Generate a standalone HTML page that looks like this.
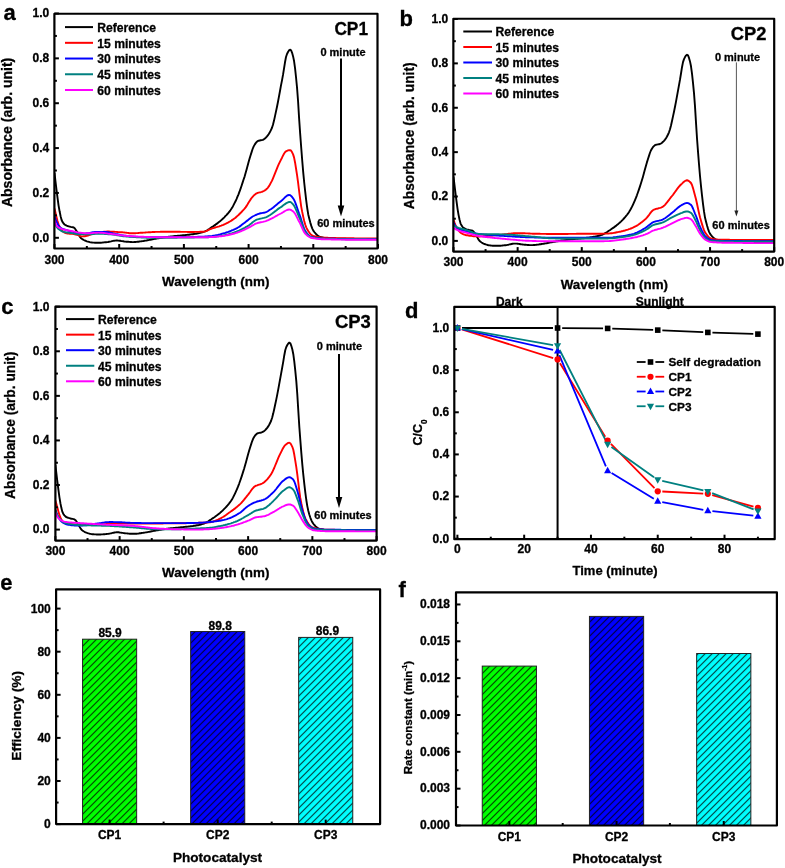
<!DOCTYPE html>
<html><head><meta charset="utf-8"><style>html,body{margin:0;padding:0;background:#fff;} svg{display:block;-webkit-font-smoothing:antialiased;filter:grayscale(0%);} text{font-family:"Liberation Sans", sans-serif;stroke:#000;stroke-width:0.3px;paint-order:stroke;}</style></head>
<body>
<svg width="785" height="868" viewBox="0 0 785 868" font-family='"Liberation Sans", sans-serif'>
<rect width="785" height="868" fill="#fff"/>
<clipPath id="ca"><rect x="54.4" y="13.75" width="323.1" height="234.75"/></clipPath>
<path d="M54.5,172.8 55.5,181.5 56.5,189.8 57.5,197.6 58.5,205.1 59.6,211.3 60.6,216.2 61.6,220.0 62.6,222.1 63.6,223.5 64.6,224.5 65.6,225.2 66.6,225.7 67.6,226.0 68.7,226.3 69.7,226.6 70.7,226.9 71.7,227.1 72.7,227.2 73.7,227.5 74.7,228.3 75.7,229.7 76.7,231.2 77.8,232.8 78.8,234.8 79.8,236.6 80.8,237.9 81.8,238.7 82.8,239.4 83.8,240.0 84.8,240.5 85.8,240.9 86.8,241.3 87.9,241.6 88.9,241.9 89.9,242.2 90.9,242.4 91.9,242.5 92.9,242.6 93.9,242.6 94.9,242.7 95.9,242.7 97.0,242.7 98.0,242.7 99.0,242.7 100.0,242.7 101.0,242.7 102.0,242.6 103.0,242.5 104.0,242.4 105.0,242.3 106.1,242.2 107.1,242.1 108.1,242.0 109.1,241.8 110.1,241.6 111.1,241.4 112.1,241.1 113.1,240.9 114.1,240.7 115.2,240.6 116.2,240.5 117.2,240.5 118.2,240.6 119.2,240.7 120.2,240.8 121.2,241.0 122.2,241.1 123.2,241.3 124.3,241.5 125.3,241.6 126.3,241.7 127.3,241.7 128.3,241.8 129.3,241.9 130.3,242.0 131.3,242.0 132.3,242.1 133.4,242.1 134.4,242.0 135.4,242.0 136.4,241.9 137.4,241.8 138.4,241.7 139.4,241.5 140.4,241.4 141.4,241.3 142.5,241.1 143.5,241.0 144.5,240.8 145.5,240.6 146.5,240.5 147.5,240.3 148.5,240.1 149.5,239.9 150.5,239.7 151.6,239.5 152.6,239.3 153.6,239.1 154.6,238.9 155.6,238.7 156.6,238.6 157.6,238.4 158.6,238.2 159.6,238.1 160.6,237.9 161.7,237.8 162.7,237.6 163.7,237.4 164.7,237.3 165.7,237.1 166.7,237.0 167.7,236.9 168.7,236.7 169.7,236.6 170.8,236.5 171.8,236.4 172.8,236.3 173.8,236.1 174.8,236.0 175.8,236.0 176.8,235.9 177.8,235.8 178.8,235.7 179.9,235.6 180.9,235.5 181.9,235.4 182.9,235.3 183.9,235.2 184.9,235.1 185.9,235.0 186.9,234.9 187.9,234.8 189.0,234.7 190.0,234.5 191.0,234.4 192.0,234.3 193.0,234.2 194.0,234.0 195.0,233.9 196.0,233.7 197.0,233.5 198.1,233.3 199.1,233.1 200.1,232.9 201.1,232.6 202.1,232.4 203.1,232.0 204.1,231.7 205.1,231.3 206.1,230.8 207.2,230.3 208.2,229.6 209.2,229.0 210.2,228.3 211.2,227.6 212.2,226.9 213.2,226.3 214.2,225.6 215.2,224.9 216.2,224.1 217.3,223.4 218.3,222.6 219.3,221.8 220.3,221.0 221.3,220.1 222.3,219.2 223.3,218.3 224.3,217.3 225.3,216.2 226.4,215.1 227.4,214.0 228.4,212.9 229.4,211.6 230.4,210.3 231.4,208.8 232.4,207.2 233.4,205.4 234.4,203.4 235.5,201.3 236.5,199.1 237.5,196.7 238.5,194.3 239.5,191.7 240.5,188.9 241.5,186.0 242.5,182.9 243.5,179.8 244.6,176.6 245.6,173.1 246.6,169.4 247.6,165.7 248.6,162.0 249.6,158.5 250.6,155.2 251.6,152.1 252.6,149.0 253.7,146.4 254.7,144.6 255.7,143.1 256.7,141.9 257.7,141.1 258.7,140.7 259.7,140.5 260.7,140.3 261.7,140.1 262.8,139.8 263.8,139.3 264.8,138.6 265.8,137.7 266.8,136.6 267.8,135.4 268.8,134.0 269.8,132.3 270.8,130.3 271.9,128.0 272.9,125.0 273.9,121.1 274.9,116.6 275.9,111.9 276.9,107.2 277.9,102.2 278.9,96.9 279.9,91.5 280.9,85.9 282.0,80.4 283.0,74.9 284.0,68.6 285.0,62.3 286.0,57.0 287.0,54.0 288.0,52.0 289.0,50.4 290.0,49.7 291.1,50.3 292.1,52.8 293.1,56.4 294.1,61.3 295.1,68.7 296.1,78.0 297.1,88.4 298.1,101.8 299.1,118.3 300.2,134.1 301.2,147.5 302.2,160.3 303.2,172.2 304.2,182.5 305.2,191.7 306.2,200.3 307.2,208.0 308.2,214.2 309.3,218.7 310.3,222.6 311.3,225.9 312.3,228.6 313.3,230.6 314.3,232.0 315.3,233.2 316.3,234.3 317.3,235.2 318.4,236.0 319.4,236.6 320.4,237.0 321.4,237.3 322.4,237.5 323.4,237.7 324.4,237.9 325.4,238.1 326.4,238.2 327.5,238.3 328.5,238.4 329.5,238.5 330.5,238.5 331.5,238.5 332.5,238.6 333.5,238.6 334.5,238.6 335.5,238.7 336.6,238.7 337.6,238.7 338.6,238.7 339.6,238.8 340.6,238.8 341.6,238.8 342.6,238.8 343.6,238.8 344.6,238.8 345.6,238.8 346.7,238.9 347.7,238.9 348.7,238.9 349.7,238.9 350.7,238.9 351.7,238.9 352.7,238.9 353.7,238.9 354.7,239.0 355.8,239.0 356.8,239.0 357.8,239.0 358.8,239.0 359.8,239.0 360.8,239.0 361.8,239.0 362.8,239.0 363.8,239.1 364.9,239.1 365.9,239.1 366.9,239.1 367.9,239.1 368.9,239.1 369.9,239.1 370.9,239.1 371.9,239.1 372.9,239.1 374.0,239.1 375.0,239.1 376.0,239.1 377.0,239.1 378.0,239.1" fill="none" stroke="#000" stroke-width="1.9" stroke-linejoin="round" clip-path="url(#ca)"/>
<path d="M54.5,208.4 55.5,212.8 56.5,216.9 57.5,220.9 58.5,224.3 59.6,226.6 60.6,228.5 61.6,230.1 62.6,231.2 63.6,231.9 64.6,232.6 65.6,233.0 66.6,233.3 67.6,233.5 68.7,233.6 69.7,233.7 70.7,233.7 71.7,233.8 72.7,233.9 73.7,234.1 74.7,234.3 75.7,234.5 76.7,234.7 77.8,235.0 78.8,235.3 79.8,235.8 80.8,236.2 81.8,236.4 82.8,236.4 83.8,236.3 84.8,236.2 85.8,236.0 86.8,235.8 87.9,235.6 88.9,235.2 89.9,234.8 90.9,234.4 91.9,234.1 92.9,233.8 93.9,233.6 94.9,233.3 95.9,233.1 97.0,232.9 98.0,232.8 99.0,232.6 100.0,232.4 101.0,232.3 102.0,232.1 103.0,231.9 104.0,231.8 105.0,231.7 106.1,231.6 107.1,231.5 108.1,231.5 109.1,231.5 110.1,231.6 111.1,231.6 112.1,231.7 113.1,231.7 114.1,231.8 115.2,231.9 116.2,231.9 117.2,232.0 118.2,232.1 119.2,232.1 120.2,232.2 121.2,232.3 122.2,232.3 123.2,232.4 124.3,232.5 125.3,232.6 126.3,232.7 127.3,232.9 128.3,233.0 129.3,233.2 130.3,233.3 131.3,233.3 132.3,233.3 133.4,233.3 134.4,233.2 135.4,233.2 136.4,233.1 137.4,233.1 138.4,233.0 139.4,232.9 140.4,232.8 141.4,232.8 142.5,232.7 143.5,232.6 144.5,232.6 145.5,232.5 146.5,232.4 147.5,232.4 148.5,232.3 149.5,232.2 150.5,232.2 151.6,232.1 152.6,232.0 153.6,232.0 154.6,232.0 155.6,231.9 156.6,231.9 157.6,231.9 158.6,231.9 159.6,231.9 160.6,231.8 161.7,231.8 162.7,231.8 163.7,231.8 164.7,231.8 165.7,231.8 166.7,231.8 167.7,231.8 168.7,231.7 169.7,231.7 170.8,231.7 171.8,231.7 172.8,231.7 173.8,231.8 174.8,231.8 175.8,231.8 176.8,231.8 177.8,231.8 178.8,231.8 179.9,231.8 180.9,231.9 181.9,231.9 182.9,231.9 183.9,231.9 184.9,231.9 185.9,231.9 186.9,231.9 187.9,232.0 189.0,232.0 190.0,232.0 191.0,232.0 192.0,232.0 193.0,232.0 194.0,232.0 195.0,231.9 196.0,231.9 197.0,231.9 198.1,231.9 199.1,231.9 200.1,231.8 201.1,231.8 202.1,231.8 203.1,231.8 204.1,231.7 205.1,231.4 206.1,231.1 207.2,230.6 208.2,230.1 209.2,229.6 210.2,229.2 211.2,228.8 212.2,228.4 213.2,228.1 214.2,227.8 215.2,227.5 216.2,227.2 217.3,226.9 218.3,226.6 219.3,226.3 220.3,225.9 221.3,225.6 222.3,225.2 223.3,224.8 224.3,224.3 225.3,223.9 226.4,223.4 227.4,222.9 228.4,222.4 229.4,221.8 230.4,221.2 231.4,220.6 232.4,219.9 233.4,219.2 234.4,218.5 235.5,217.7 236.5,216.8 237.5,215.9 238.5,215.0 239.5,214.0 240.5,213.0 241.5,212.0 242.5,210.9 243.5,209.8 244.6,208.7 245.6,207.4 246.6,205.9 247.6,204.3 248.6,202.6 249.6,201.0 250.6,199.4 251.6,198.0 252.6,196.8 253.7,195.7 254.7,194.7 255.7,193.9 256.7,193.3 257.7,192.9 258.7,192.6 259.7,192.4 260.7,192.2 261.7,191.9 262.8,191.5 263.8,191.0 264.8,190.4 265.8,189.7 266.8,188.8 267.8,187.8 268.8,186.4 269.8,184.7 270.8,182.9 271.9,180.9 272.9,178.6 273.9,176.2 274.9,173.7 275.9,171.2 276.9,168.7 277.9,166.2 278.9,163.9 279.9,161.8 280.9,159.8 282.0,157.7 283.0,155.6 284.0,153.7 285.0,152.2 286.0,151.3 287.0,150.8 288.0,150.4 289.0,150.2 290.0,150.1 291.1,150.7 292.1,152.3 293.1,154.4 294.1,157.6 295.1,162.7 296.1,169.0 297.1,175.4 298.1,182.6 299.1,191.0 300.2,199.4 301.2,206.6 302.2,211.9 303.2,216.6 304.2,220.9 305.2,224.5 306.2,227.3 307.2,229.3 308.2,231.0 309.3,232.5 310.3,233.8 311.3,234.8 312.3,235.6 313.3,236.0 314.3,236.3 315.3,236.5 316.3,236.7 317.3,236.9 318.4,237.1 319.4,237.2 320.4,237.4 321.4,237.5 322.4,237.6 323.4,237.7 324.4,237.7 325.4,237.8 326.4,237.8 327.5,237.8 328.5,237.9 329.5,237.9 330.5,237.9 331.5,237.9 332.5,238.0 333.5,238.0 334.5,238.0 335.5,238.0 336.6,238.1 337.6,238.1 338.6,238.1 339.6,238.1 340.6,238.1 341.6,238.2 342.6,238.2 343.6,238.2 344.6,238.2 345.6,238.2 346.7,238.2 347.7,238.3 348.7,238.3 349.7,238.3 350.7,238.3 351.7,238.3 352.7,238.3 353.7,238.3 354.7,238.4 355.8,238.4 356.8,238.4 357.8,238.4 358.8,238.4 359.8,238.4 360.8,238.4 361.8,238.4 362.8,238.4 363.8,238.4 364.9,238.4 365.9,238.4 366.9,238.4 367.9,238.5 368.9,238.5 369.9,238.5 370.9,238.5 371.9,238.5 372.9,238.5 374.0,238.5 375.0,238.5 376.0,238.5 377.0,238.5 378.0,238.5" fill="none" stroke="#ff0000" stroke-width="1.9" stroke-linejoin="round" clip-path="url(#ca)"/>
<path d="M54.5,216.0 55.5,219.2 56.5,221.7 57.5,223.7 58.5,225.6 59.6,227.0 60.6,227.8 61.6,228.4 62.6,228.8 63.6,229.2 64.6,229.5 65.6,229.9 66.6,230.2 67.6,230.5 68.7,230.8 69.7,231.1 70.7,231.3 71.7,231.6 72.7,231.9 73.7,232.2 74.7,232.6 75.7,233.0 76.7,233.4 77.8,233.7 78.8,233.9 79.8,234.0 80.8,234.0 81.8,233.9 82.8,233.8 83.8,233.7 84.8,233.6 85.8,233.5 86.8,233.3 87.9,233.2 88.9,233.1 89.9,232.9 90.9,232.7 91.9,232.5 92.9,232.3 93.9,232.1 94.9,232.0 95.9,232.0 97.0,232.0 98.0,232.0 99.0,232.0 100.0,232.0 101.0,232.0 102.0,232.0 103.0,232.0 104.0,232.0 105.0,232.0 106.1,232.0 107.1,232.1 108.1,232.3 109.1,232.5 110.1,232.7 111.1,233.0 112.1,233.2 113.1,233.5 114.1,233.7 115.2,234.0 116.2,234.1 117.2,234.3 118.2,234.5 119.2,234.7 120.2,234.9 121.2,235.1 122.2,235.3 123.2,235.4 124.3,235.6 125.3,235.7 126.3,235.9 127.3,236.0 128.3,236.1 129.3,236.2 130.3,236.4 131.3,236.5 132.3,236.6 133.4,236.7 134.4,236.8 135.4,236.8 136.4,236.9 137.4,236.9 138.4,236.9 139.4,237.0 140.4,237.0 141.4,237.0 142.5,237.0 143.5,237.0 144.5,237.0 145.5,237.1 146.5,237.1 147.5,237.1 148.5,237.1 149.5,237.1 150.5,237.1 151.6,237.1 152.6,237.1 153.6,237.1 154.6,237.1 155.6,237.1 156.6,237.1 157.6,237.1 158.6,237.1 159.6,237.1 160.6,237.1 161.7,237.1 162.7,237.1 163.7,237.1 164.7,237.1 165.7,237.1 166.7,237.1 167.7,237.1 168.7,237.1 169.7,237.1 170.8,237.1 171.8,237.1 172.8,237.1 173.8,237.1 174.8,237.1 175.8,237.1 176.8,237.1 177.8,237.1 178.8,237.1 179.9,237.1 180.9,237.1 181.9,237.1 182.9,237.1 183.9,237.1 184.9,237.1 185.9,237.1 186.9,237.1 187.9,237.1 189.0,237.1 190.0,237.1 191.0,237.1 192.0,237.0 193.0,237.0 194.0,237.0 195.0,236.9 196.0,236.9 197.0,236.9 198.1,236.8 199.1,236.8 200.1,236.8 201.1,236.7 202.1,236.7 203.1,236.6 204.1,236.6 205.1,236.5 206.1,236.4 207.2,236.4 208.2,236.3 209.2,236.3 210.2,236.2 211.2,236.1 212.2,236.0 213.2,235.8 214.2,235.7 215.2,235.5 216.2,235.3 217.3,235.1 218.3,234.8 219.3,234.6 220.3,234.3 221.3,234.0 222.3,233.7 223.3,233.4 224.3,233.1 225.3,232.9 226.4,232.5 227.4,232.2 228.4,231.9 229.4,231.5 230.4,231.1 231.4,230.7 232.4,230.2 233.4,229.8 234.4,229.3 235.5,228.8 236.5,228.3 237.5,227.8 238.5,227.2 239.5,226.6 240.5,225.9 241.5,225.1 242.5,224.3 243.5,223.5 244.6,222.7 245.6,221.9 246.6,221.1 247.6,220.4 248.6,219.6 249.6,218.8 250.6,218.0 251.6,217.2 252.6,216.5 253.7,216.0 254.7,215.5 255.7,215.0 256.7,214.6 257.7,214.2 258.7,213.8 259.7,213.5 260.7,213.3 261.7,213.1 262.8,212.9 263.8,212.7 264.8,212.5 265.8,212.2 266.8,211.8 267.8,211.2 268.8,210.5 269.8,209.8 270.8,209.2 271.9,208.4 272.9,207.7 273.9,206.9 274.9,206.1 275.9,205.2 276.9,204.4 277.9,203.6 278.9,202.8 279.9,202.0 280.9,201.2 282.0,200.3 283.0,199.3 284.0,198.3 285.0,197.3 286.0,196.5 287.0,195.7 288.0,195.2 289.0,195.0 290.0,195.1 291.1,195.9 292.1,197.0 293.1,198.3 294.1,199.9 295.1,202.1 296.1,204.8 297.1,207.7 298.1,210.7 299.1,213.6 300.2,216.5 301.2,219.7 302.2,223.0 303.2,226.1 304.2,228.8 305.2,230.9 306.2,232.4 307.2,233.7 308.2,234.9 309.3,235.9 310.3,236.7 311.3,237.1 312.3,237.3 313.3,237.5 314.3,237.7 315.3,237.8 316.3,238.0 317.3,238.1 318.4,238.2 319.4,238.3 320.4,238.4 321.4,238.5 322.4,238.6 323.4,238.6 324.4,238.6 325.4,238.7 326.4,238.7 327.5,238.7 328.5,238.7 329.5,238.8 330.5,238.8 331.5,238.8 332.5,238.8 333.5,238.8 334.5,238.8 335.5,238.9 336.6,238.9 337.6,238.9 338.6,238.9 339.6,238.9 340.6,238.9 341.6,238.9 342.6,238.9 343.6,239.0 344.6,239.0 345.6,239.0 346.7,239.0 347.7,239.0 348.7,239.0 349.7,239.0 350.7,239.0 351.7,239.0 352.7,239.0 353.7,239.1 354.7,239.1 355.8,239.1 356.8,239.1 357.8,239.1 358.8,239.1 359.8,239.1 360.8,239.1 361.8,239.1 362.8,239.1 363.8,239.1 364.9,239.1 365.9,239.1 366.9,239.1 367.9,239.1 368.9,239.1 369.9,239.1 370.9,239.1 371.9,239.1 372.9,239.1 374.0,239.1 375.0,239.1 376.0,239.1 377.0,239.1 378.0,239.1" fill="none" stroke="#0000ff" stroke-width="1.9" stroke-linejoin="round" clip-path="url(#ca)"/>
<path d="M54.5,221.2 55.5,224.2 56.5,226.6 57.5,228.0 58.5,229.0 59.6,229.8 60.6,230.5 61.6,231.1 62.6,231.5 63.6,231.9 64.6,232.1 65.6,232.3 66.6,232.5 67.6,232.6 68.7,232.8 69.7,232.9 70.7,233.0 71.7,233.1 72.7,233.3 73.7,233.4 74.7,233.7 75.7,233.9 76.7,234.1 77.8,234.3 78.8,234.4 79.8,234.4 80.8,234.4 81.8,234.4 82.8,234.4 83.8,234.4 84.8,234.4 85.8,234.4 86.8,234.4 87.9,234.4 88.9,234.4 89.9,234.4 90.9,234.3 91.9,234.2 92.9,234.1 93.9,234.0 94.9,233.9 95.9,233.9 97.0,233.8 98.0,233.8 99.0,233.8 100.0,233.8 101.0,233.8 102.0,233.8 103.0,233.9 104.0,233.9 105.0,234.0 106.1,234.0 107.1,234.1 108.1,234.2 109.1,234.3 110.1,234.3 111.1,234.4 112.1,234.5 113.1,234.6 114.1,234.7 115.2,234.9 116.2,235.0 117.2,235.2 118.2,235.4 119.2,235.6 120.2,235.7 121.2,235.9 122.2,236.1 123.2,236.2 124.3,236.3 125.3,236.4 126.3,236.5 127.3,236.6 128.3,236.6 129.3,236.7 130.3,236.8 131.3,236.9 132.3,236.9 133.4,237.0 134.4,237.1 135.4,237.1 136.4,237.2 137.4,237.2 138.4,237.3 139.4,237.4 140.4,237.4 141.4,237.5 142.5,237.5 143.5,237.6 144.5,237.6 145.5,237.6 146.5,237.7 147.5,237.7 148.5,237.7 149.5,237.7 150.5,237.8 151.6,237.8 152.6,237.8 153.6,237.8 154.6,237.8 155.6,237.8 156.6,237.8 157.6,237.8 158.6,237.8 159.6,237.8 160.6,237.8 161.7,237.8 162.7,237.8 163.7,237.8 164.7,237.8 165.7,237.8 166.7,237.7 167.7,237.7 168.7,237.7 169.7,237.7 170.8,237.7 171.8,237.7 172.8,237.7 173.8,237.7 174.8,237.7 175.8,237.7 176.8,237.7 177.8,237.6 178.8,237.6 179.9,237.6 180.9,237.6 181.9,237.6 182.9,237.6 183.9,237.6 184.9,237.6 185.9,237.6 186.9,237.5 187.9,237.5 189.0,237.5 190.0,237.5 191.0,237.5 192.0,237.5 193.0,237.5 194.0,237.5 195.0,237.4 196.0,237.4 197.0,237.4 198.1,237.4 199.1,237.4 200.1,237.4 201.1,237.4 202.1,237.3 203.1,237.3 204.1,237.3 205.1,237.3 206.1,237.2 207.2,237.2 208.2,237.2 209.2,237.1 210.2,237.1 211.2,237.1 212.2,237.0 213.2,236.9 214.2,236.8 215.2,236.7 216.2,236.6 217.3,236.4 218.3,236.3 219.3,236.1 220.3,236.0 221.3,235.8 222.3,235.6 223.3,235.5 224.3,235.3 225.3,235.0 226.4,234.8 227.4,234.6 228.4,234.3 229.4,234.0 230.4,233.7 231.4,233.4 232.4,233.1 233.4,232.7 234.4,232.4 235.5,232.0 236.5,231.7 237.5,231.2 238.5,230.8 239.5,230.4 240.5,229.9 241.5,229.4 242.5,228.9 243.5,228.3 244.6,227.8 245.6,227.2 246.6,226.7 247.6,226.1 248.6,225.5 249.6,224.8 250.6,224.0 251.6,223.2 252.6,222.3 253.7,221.5 254.7,220.8 255.7,220.2 256.7,219.7 257.7,219.4 258.7,219.1 259.7,218.8 260.7,218.6 261.7,218.4 262.8,218.1 263.8,217.9 264.8,217.6 265.8,217.3 266.8,216.9 267.8,216.4 268.8,215.8 269.8,215.2 270.8,214.5 271.9,213.8 272.9,213.0 273.9,212.2 274.9,211.4 275.9,210.7 276.9,209.9 277.9,209.1 278.9,208.4 279.9,207.7 280.9,207.1 282.0,206.4 283.0,205.6 284.0,204.8 285.0,204.1 286.0,203.4 287.0,202.8 288.0,202.3 289.0,202.0 290.0,201.9 291.1,202.3 292.1,203.3 293.1,204.4 294.1,205.8 295.1,207.6 296.1,209.8 297.1,212.2 298.1,214.6 299.1,217.1 300.2,219.5 301.2,222.3 302.2,225.1 303.2,227.9 304.2,230.2 305.2,232.0 306.2,233.3 307.2,234.4 308.2,235.5 309.3,236.3 310.3,237.0 311.3,237.3 312.3,237.5 313.3,237.7 314.3,237.9 315.3,238.1 316.3,238.2 317.3,238.3 318.4,238.4 319.4,238.5 320.4,238.6 321.4,238.7 322.4,238.8 323.4,238.8 324.4,238.9 325.4,238.9 326.4,238.9 327.5,238.9 328.5,239.0 329.5,239.0 330.5,239.0 331.5,239.0 332.5,239.0 333.5,239.0 334.5,239.1 335.5,239.1 336.6,239.1 337.6,239.1 338.6,239.1 339.6,239.1 340.6,239.1 341.6,239.2 342.6,239.2 343.6,239.2 344.6,239.2 345.6,239.2 346.7,239.2 347.7,239.2 348.7,239.2 349.7,239.2 350.7,239.3 351.7,239.3 352.7,239.3 353.7,239.3 354.7,239.3 355.8,239.3 356.8,239.3 357.8,239.3 358.8,239.3 359.8,239.3 360.8,239.3 361.8,239.3 362.8,239.3 363.8,239.3 364.9,239.3 365.9,239.3 366.9,239.4 367.9,239.4 368.9,239.4 369.9,239.4 370.9,239.4 371.9,239.4 372.9,239.4 374.0,239.4 375.0,239.4 376.0,239.4 377.0,239.4 378.0,239.4" fill="none" stroke="#008080" stroke-width="1.9" stroke-linejoin="round" clip-path="url(#ca)"/>
<path d="M54.5,219.9 55.5,223.0 56.5,225.6 57.5,226.7 58.5,227.4 59.6,228.0 60.6,228.4 61.6,228.8 62.6,229.1 63.6,229.4 64.6,229.7 65.6,229.9 66.6,230.1 67.6,230.3 68.7,230.5 69.7,230.7 70.7,230.9 71.7,231.0 72.7,231.2 73.7,231.4 74.7,231.7 75.7,231.9 76.7,232.2 77.8,232.4 78.8,232.6 79.8,232.7 80.8,232.8 81.8,232.9 82.8,233.0 83.8,233.1 84.8,233.2 85.8,233.2 86.8,233.3 87.9,233.3 88.9,233.3 89.9,233.3 90.9,233.2 91.9,233.1 92.9,233.0 93.9,232.9 94.9,232.8 95.9,232.7 97.0,232.7 98.0,232.6 99.0,232.6 100.0,232.7 101.0,232.7 102.0,232.8 103.0,232.9 104.0,233.0 105.0,233.1 106.1,233.3 107.1,233.4 108.1,233.6 109.1,233.7 110.1,233.8 111.1,233.9 112.1,234.1 113.1,234.2 114.1,234.3 115.2,234.5 116.2,234.6 117.2,234.8 118.2,234.9 119.2,235.1 120.2,235.2 121.2,235.3 122.2,235.4 123.2,235.6 124.3,235.7 125.3,235.8 126.3,235.8 127.3,235.9 128.3,236.0 129.3,236.0 130.3,236.1 131.3,236.2 132.3,236.2 133.4,236.3 134.4,236.4 135.4,236.4 136.4,236.5 137.4,236.5 138.4,236.6 139.4,236.6 140.4,236.7 141.4,236.7 142.5,236.8 143.5,236.8 144.5,236.9 145.5,236.9 146.5,236.9 147.5,237.0 148.5,237.0 149.5,237.0 150.5,237.1 151.6,237.1 152.6,237.1 153.6,237.1 154.6,237.1 155.6,237.1 156.6,237.2 157.6,237.2 158.6,237.2 159.6,237.2 160.6,237.2 161.7,237.2 162.7,237.2 163.7,237.2 164.7,237.2 165.7,237.3 166.7,237.3 167.7,237.3 168.7,237.3 169.7,237.3 170.8,237.3 171.8,237.3 172.8,237.3 173.8,237.3 174.8,237.3 175.8,237.3 176.8,237.3 177.8,237.3 178.8,237.3 179.9,237.3 180.9,237.3 181.9,237.4 182.9,237.4 183.9,237.4 184.9,237.4 185.9,237.4 186.9,237.3 187.9,237.3 189.0,237.3 190.0,237.3 191.0,237.3 192.0,237.3 193.0,237.3 194.0,237.3 195.0,237.3 196.0,237.3 197.0,237.3 198.1,237.3 199.1,237.3 200.1,237.3 201.1,237.3 202.1,237.2 203.1,237.2 204.1,237.2 205.1,237.2 206.1,237.2 207.2,237.2 208.2,237.2 209.2,237.1 210.2,237.1 211.2,237.1 212.2,237.0 213.2,237.0 214.2,236.9 215.2,236.8 216.2,236.7 217.3,236.6 218.3,236.5 219.3,236.4 220.3,236.3 221.3,236.2 222.3,236.1 223.3,235.9 224.3,235.8 225.3,235.6 226.4,235.4 227.4,235.2 228.4,235.0 229.4,234.8 230.4,234.5 231.4,234.3 232.4,234.0 233.4,233.8 234.4,233.5 235.5,233.2 236.5,232.9 237.5,232.5 238.5,232.2 239.5,231.8 240.5,231.4 241.5,231.0 242.5,230.5 243.5,230.1 244.6,229.6 245.6,229.1 246.6,228.7 247.6,228.2 248.6,227.7 249.6,227.2 250.6,226.6 251.6,226.0 252.6,225.4 253.7,224.8 254.7,224.2 255.7,223.7 256.7,223.3 257.7,223.0 258.7,222.7 259.7,222.5 260.7,222.3 261.7,222.1 262.8,221.9 263.8,221.6 264.8,221.4 265.8,221.1 266.8,220.7 267.8,220.3 268.8,219.9 269.8,219.4 270.8,218.9 271.9,218.4 272.9,217.8 273.9,217.3 274.9,216.7 275.9,216.1 276.9,215.6 277.9,215.0 278.9,214.5 279.9,214.0 280.9,213.5 282.0,212.9 283.0,212.3 284.0,211.6 285.0,211.0 286.0,210.5 287.0,210.0 288.0,209.7 289.0,209.5 290.0,209.6 291.1,210.0 292.1,210.7 293.1,211.4 294.1,212.4 295.1,213.8 296.1,215.6 297.1,217.6 298.1,219.7 299.1,221.6 300.2,223.6 301.2,225.8 302.2,228.1 303.2,230.3 304.2,232.2 305.2,233.6 306.2,234.6 307.2,235.5 308.2,236.3 309.3,237.0 310.3,237.5 311.3,237.8 312.3,238.0 313.3,238.2 314.3,238.3 315.3,238.5 316.3,238.6 317.3,238.8 318.4,238.9 319.4,239.0 320.4,239.1 321.4,239.2 322.4,239.2 323.4,239.3 324.4,239.3 325.4,239.4 326.4,239.4 327.5,239.4 328.5,239.4 329.5,239.4 330.5,239.4 331.5,239.5 332.5,239.5 333.5,239.5 334.5,239.5 335.5,239.5 336.6,239.5 337.6,239.6 338.6,239.6 339.6,239.6 340.6,239.6 341.6,239.6 342.6,239.6 343.6,239.6 344.6,239.6 345.6,239.7 346.7,239.7 347.7,239.7 348.7,239.7 349.7,239.7 350.7,239.7 351.7,239.7 352.7,239.7 353.7,239.7 354.7,239.7 355.8,239.7 356.8,239.8 357.8,239.8 358.8,239.8 359.8,239.8 360.8,239.8 361.8,239.8 362.8,239.8 363.8,239.8 364.9,239.8 365.9,239.8 366.9,239.8 367.9,239.8 368.9,239.8 369.9,239.8 370.9,239.8 371.9,239.8 372.9,239.8 374.0,239.8 375.0,239.8 376.0,239.8 377.0,239.8 378.0,239.8" fill="none" stroke="#ff00ff" stroke-width="1.9" stroke-linejoin="round" clip-path="url(#ca)"/>
<line x1="54.4" y1="237.8" x2="58.9" y2="237.8" stroke="#000" stroke-width="2.0" />
<line x1="54.4" y1="215.37" x2="56.9" y2="215.37" stroke="#000" stroke-width="2.0" />
<line x1="54.4" y1="192.94" x2="58.9" y2="192.94" stroke="#000" stroke-width="2.0" />
<line x1="54.4" y1="170.51" x2="56.9" y2="170.51" stroke="#000" stroke-width="2.0" />
<line x1="54.4" y1="148.08" x2="58.9" y2="148.08" stroke="#000" stroke-width="2.0" />
<line x1="54.4" y1="125.65" x2="56.9" y2="125.65" stroke="#000" stroke-width="2.0" />
<line x1="54.4" y1="103.22" x2="58.9" y2="103.22" stroke="#000" stroke-width="2.0" />
<line x1="54.4" y1="80.79" x2="56.9" y2="80.79" stroke="#000" stroke-width="2.0" />
<line x1="54.4" y1="58.36" x2="58.9" y2="58.36" stroke="#000" stroke-width="2.0" />
<line x1="54.4" y1="35.93" x2="56.9" y2="35.93" stroke="#000" stroke-width="2.0" />
<line x1="54.4" y1="13.5" x2="58.9" y2="13.5" stroke="#000" stroke-width="2.0" />
<line x1="54.5" y1="248.5" x2="54.5" y2="244" stroke="#000" stroke-width="2.0" />
<line x1="86.85" y1="248.5" x2="86.85" y2="246" stroke="#000" stroke-width="2.0" />
<line x1="119.2" y1="248.5" x2="119.2" y2="244" stroke="#000" stroke-width="2.0" />
<line x1="151.55" y1="248.5" x2="151.55" y2="246" stroke="#000" stroke-width="2.0" />
<line x1="183.9" y1="248.5" x2="183.9" y2="244" stroke="#000" stroke-width="2.0" />
<line x1="216.25" y1="248.5" x2="216.25" y2="246" stroke="#000" stroke-width="2.0" />
<line x1="248.6" y1="248.5" x2="248.6" y2="244" stroke="#000" stroke-width="2.0" />
<line x1="280.95" y1="248.5" x2="280.95" y2="246" stroke="#000" stroke-width="2.0" />
<line x1="313.3" y1="248.5" x2="313.3" y2="244" stroke="#000" stroke-width="2.0" />
<line x1="345.65" y1="248.5" x2="345.65" y2="246" stroke="#000" stroke-width="2.0" />
<line x1="378" y1="248.5" x2="378" y2="244" stroke="#000" stroke-width="2.0" />
<rect x="54.4" y="13.75" width="323.1" height="234.75" fill="none" stroke="#000" stroke-width="2.2" stroke-linejoin="round"/>
<text x="49.3" y="241.6" font-size="12" text-anchor="end" font-weight="bold" fill="#000" >0.0</text>
<text x="49.3" y="196.74" font-size="12" text-anchor="end" font-weight="bold" fill="#000" >0.2</text>
<text x="49.3" y="151.88" font-size="12" text-anchor="end" font-weight="bold" fill="#000" >0.4</text>
<text x="49.3" y="107.02" font-size="12" text-anchor="end" font-weight="bold" fill="#000" >0.6</text>
<text x="49.3" y="62.16" font-size="12" text-anchor="end" font-weight="bold" fill="#000" >0.8</text>
<text x="49.3" y="17.3" font-size="12" text-anchor="end" font-weight="bold" fill="#000" >1.0</text>
<text x="54.5" y="263.8" font-size="12" text-anchor="middle" font-weight="bold" fill="#000" >300</text>
<text x="119.2" y="263.8" font-size="12" text-anchor="middle" font-weight="bold" fill="#000" >400</text>
<text x="183.9" y="263.8" font-size="12" text-anchor="middle" font-weight="bold" fill="#000" >500</text>
<text x="248.6" y="263.8" font-size="12" text-anchor="middle" font-weight="bold" fill="#000" >600</text>
<text x="313.3" y="263.8" font-size="12" text-anchor="middle" font-weight="bold" fill="#000" >700</text>
<text x="378" y="263.8" font-size="12" text-anchor="middle" font-weight="bold" fill="#000" >800</text>
<text x="215.7" y="286.3" font-size="13.4" text-anchor="middle" font-weight="bold" fill="#000" >Wavelength (nm)</text>
<text x="0" y="0" font-size="14" font-weight="bold" text-anchor="middle" transform="translate(12.3,132.4) rotate(-90)">Absorbance (arb. unit)</text>
<text x="3.5" y="20" font-size="22" text-anchor="start" font-weight="bold" fill="#000" >a</text>
<text x="334.4" y="35.1" font-size="19" text-anchor="start" font-weight="bold" fill="#000"  textLength="33.6" lengthAdjust="spacingAndGlyphs">CP1</text>
<line x1="65" y1="27.1" x2="93" y2="27.1" stroke="#000" stroke-width="2" />
<text x="97.3" y="32" font-size="12.15" text-anchor="start" font-weight="bold" fill="#000" >Reference</text>
<line x1="65" y1="42.82" x2="93" y2="42.82" stroke="#ff0000" stroke-width="2" />
<text x="97.3" y="47.72" font-size="12.15" text-anchor="start" font-weight="bold" fill="#000" >15 minutes</text>
<line x1="65" y1="58.54" x2="93" y2="58.54" stroke="#0000ff" stroke-width="2" />
<text x="97.3" y="63.44" font-size="12.15" text-anchor="start" font-weight="bold" fill="#000" >30 minutes</text>
<line x1="65" y1="74.26" x2="93" y2="74.26" stroke="#008080" stroke-width="2" />
<text x="97.3" y="79.16" font-size="12.15" text-anchor="start" font-weight="bold" fill="#000" >45 minutes</text>
<line x1="65" y1="89.98" x2="93" y2="89.98" stroke="#ff00ff" stroke-width="2" />
<text x="97.3" y="94.88" font-size="12.15" text-anchor="start" font-weight="bold" fill="#000" >60 minutes</text>
<text x="343" y="55.9" font-size="11" text-anchor="middle" font-weight="bold" fill="#000" >0 minute</text>
<text x="345.9" y="227" font-size="11" text-anchor="middle" font-weight="bold" fill="#000" >60 minutes</text>
<line x1="341" y1="58.4" x2="341" y2="208.5" stroke="#000" stroke-width="2.0" />
<path d="M337.7,205.5 L344.3,205.5 L341,216.5 Z" fill="#000"/>
<clipPath id="cb"><rect x="453.35" y="18.75" width="320.85" height="232.85"/></clipPath>
<path d="M453.5,176.5 454.5,185.2 455.5,193.4 456.5,201.1 457.5,208.6 458.5,214.6 459.5,219.5 460.5,223.3 461.5,225.4 462.5,226.8 463.5,227.8 464.5,228.4 465.5,228.9 466.5,229.3 467.5,229.6 468.5,229.8 469.5,230.1 470.5,230.3 471.5,230.4 472.5,230.7 473.5,231.5 474.5,232.9 475.5,234.4 476.6,236.0 477.6,237.9 478.6,239.7 479.6,241.0 480.6,241.8 481.6,242.5 482.6,243.1 483.6,243.6 484.6,244.0 485.6,244.4 486.6,244.7 487.6,245.0 488.6,245.2 489.6,245.4 490.6,245.5 491.6,245.6 492.6,245.7 493.6,245.7 494.6,245.7 495.6,245.8 496.6,245.8 497.6,245.8 498.6,245.8 499.6,245.7 500.6,245.7 501.6,245.6 502.6,245.5 503.6,245.4 504.6,245.3 505.6,245.2 506.6,245.1 507.6,244.9 508.6,244.7 509.6,244.4 510.6,244.2 511.6,244.0 512.6,243.8 513.6,243.6 514.6,243.6 515.6,243.6 516.6,243.6 517.6,243.7 518.6,243.9 519.6,244.0 520.6,244.2 521.6,244.4 522.7,244.5 523.7,244.6 524.7,244.7 525.7,244.8 526.7,244.9 527.7,245.0 528.7,245.0 529.7,245.1 530.7,245.1 531.7,245.1 532.7,245.1 533.7,245.0 534.7,245.0 535.7,244.9 536.7,244.7 537.7,244.6 538.7,244.5 539.7,244.3 540.7,244.2 541.7,244.0 542.7,243.9 543.7,243.7 544.7,243.5 545.7,243.4 546.7,243.2 547.7,243.0 548.7,242.8 549.7,242.6 550.7,242.4 551.7,242.2 552.7,242.0 553.7,241.8 554.7,241.7 555.7,241.5 556.7,241.3 557.7,241.2 558.7,241.0 559.7,240.9 560.7,240.7 561.7,240.5 562.7,240.4 563.7,240.3 564.7,240.1 565.7,240.0 566.7,239.8 567.7,239.7 568.8,239.6 569.8,239.5 570.8,239.4 571.8,239.3 572.8,239.2 573.8,239.1 574.8,239.0 575.8,238.9 576.8,238.8 577.8,238.7 578.8,238.6 579.8,238.5 580.8,238.5 581.8,238.4 582.8,238.3 583.8,238.2 584.8,238.0 585.8,237.9 586.8,237.8 587.8,237.7 588.8,237.6 589.8,237.4 590.8,237.3 591.8,237.2 592.8,237.0 593.8,236.8 594.8,236.7 595.8,236.5 596.8,236.3 597.8,236.0 598.8,235.8 599.8,235.5 600.8,235.2 601.8,234.9 602.8,234.5 603.8,234.0 604.8,233.4 605.8,232.8 606.8,232.2 607.8,231.5 608.8,230.8 609.8,230.2 610.8,229.5 611.8,228.8 612.8,228.1 613.9,227.4 614.9,226.6 615.9,225.9 616.9,225.1 617.9,224.3 618.9,223.4 619.9,222.5 620.9,221.6 621.9,220.6 622.9,219.6 623.9,218.5 624.9,217.4 625.9,216.2 626.9,215.0 627.9,213.7 628.9,212.2 629.9,210.6 630.9,208.8 631.9,206.9 632.9,204.8 633.9,202.6 634.9,200.3 635.9,197.9 636.9,195.3 637.9,192.5 638.9,189.6 639.9,186.6 640.9,183.5 641.9,180.3 642.9,176.9 643.9,173.3 644.9,169.6 645.9,165.9 646.9,162.4 647.9,159.2 648.9,156.1 649.9,153.0 650.9,150.5 651.9,148.7 652.9,147.2 653.9,146.1 654.9,145.2 655.9,144.8 656.9,144.6 657.9,144.4 658.9,144.2 660.0,144.0 661.0,143.5 662.0,142.7 663.0,141.8 664.0,140.8 665.0,139.6 666.0,138.2 667.0,136.5 668.0,134.5 669.0,132.3 670.0,129.3 671.0,125.5 672.0,121.0 673.0,116.4 674.0,111.7 675.0,106.8 676.0,101.6 677.0,96.1 678.0,90.6 679.0,85.1 680.0,79.7 681.0,73.5 682.0,67.2 683.0,62.1 684.0,59.1 685.0,57.1 686.0,55.5 687.0,54.8 688.0,55.4 689.0,57.9 690.0,61.4 691.0,66.3 692.0,73.6 693.0,82.8 694.0,93.1 695.0,106.4 696.0,122.6 697.0,138.3 698.0,151.6 699.0,164.3 700.0,176.0 701.0,186.2 702.0,195.3 703.0,203.8 704.0,211.4 705.0,217.6 706.1,222.0 707.1,225.8 708.1,229.1 709.1,231.8 710.1,233.8 711.1,235.1 712.1,236.3 713.1,237.4 714.1,238.3 715.1,239.1 716.1,239.7 717.1,240.1 718.1,240.4 719.1,240.6 720.1,240.8 721.1,241.0 722.1,241.2 723.1,241.3 724.1,241.4 725.1,241.5 726.1,241.6 727.1,241.6 728.1,241.6 729.1,241.7 730.1,241.7 731.1,241.7 732.1,241.8 733.1,241.8 734.1,241.8 735.1,241.8 736.1,241.8 737.1,241.9 738.1,241.9 739.1,241.9 740.1,241.9 741.1,241.9 742.1,241.9 743.1,241.9 744.1,242.0 745.1,242.0 746.1,242.0 747.1,242.0 748.1,242.0 749.1,242.0 750.1,242.0 751.1,242.0 752.2,242.1 753.2,242.1 754.2,242.1 755.2,242.1 756.2,242.1 757.2,242.1 758.2,242.1 759.2,242.1 760.2,242.1 761.2,242.1 762.2,242.2 763.2,242.2 764.2,242.2 765.2,242.2 766.2,242.2 767.2,242.2 768.2,242.2 769.2,242.2 770.2,242.2 771.2,242.2 772.2,242.2 773.2,242.2 774.2,242.2" fill="none" stroke="#000" stroke-width="1.9" stroke-linejoin="round" clip-path="url(#cb)"/>
<path d="M453.5,219.8 454.5,222.6 455.5,225.2 456.5,227.2 457.5,228.9 458.5,230.4 459.5,231.6 460.5,232.6 461.5,233.3 462.5,233.9 463.5,234.3 464.5,234.7 465.5,235.0 466.5,235.2 467.5,235.3 468.5,235.5 469.5,235.7 470.5,235.8 471.5,235.9 472.5,236.1 473.5,236.2 474.5,236.3 475.5,236.3 476.6,236.4 477.6,236.4 478.6,236.5 479.6,236.5 480.6,236.4 481.6,236.4 482.6,236.4 483.6,236.3 484.6,236.2 485.6,236.2 486.6,236.1 487.6,236.0 488.6,235.9 489.6,235.8 490.6,235.7 491.6,235.6 492.6,235.5 493.6,235.4 494.6,235.3 495.6,235.2 496.6,235.1 497.6,235.0 498.6,234.9 499.6,234.8 500.6,234.7 501.6,234.6 502.6,234.5 503.6,234.4 504.6,234.3 505.6,234.2 506.6,234.1 507.6,233.9 508.6,233.8 509.6,233.7 510.6,233.6 511.6,233.5 512.6,233.4 513.6,233.3 514.6,233.2 515.6,233.2 516.6,233.1 517.6,233.1 518.6,233.1 519.6,233.2 520.6,233.2 521.6,233.2 522.7,233.2 523.7,233.3 524.7,233.3 525.7,233.4 526.7,233.4 527.7,233.4 528.7,233.5 529.7,233.5 530.7,233.6 531.7,233.6 532.7,233.7 533.7,233.7 534.7,233.7 535.7,233.8 536.7,233.8 537.7,233.8 538.7,233.8 539.7,233.8 540.7,233.9 541.7,233.9 542.7,233.9 543.7,233.9 544.7,233.9 545.7,233.9 546.7,234.0 547.7,234.0 548.7,234.0 549.7,234.0 550.7,234.0 551.7,234.0 552.7,234.0 553.7,234.0 554.7,234.0 555.7,234.0 556.7,234.0 557.7,234.0 558.7,234.0 559.7,234.0 560.7,234.0 561.7,234.0 562.7,234.0 563.7,234.0 564.7,234.0 565.7,234.0 566.7,234.0 567.7,234.0 568.8,233.9 569.8,233.9 570.8,233.9 571.8,233.9 572.8,233.9 573.8,233.9 574.8,233.9 575.8,233.9 576.8,233.8 577.8,233.8 578.8,233.8 579.8,233.8 580.8,233.8 581.8,233.8 582.8,233.8 583.8,233.8 584.8,233.8 585.8,233.8 586.8,233.8 587.8,233.8 588.8,233.8 589.8,233.7 590.8,233.7 591.8,233.7 592.8,233.7 593.8,233.7 594.8,233.7 595.8,233.7 596.8,233.7 597.8,233.7 598.8,233.7 599.8,233.7 600.8,233.7 601.8,233.7 602.8,233.6 603.8,233.6 604.8,233.6 605.8,233.6 606.8,233.6 607.8,233.6 608.8,233.5 609.8,233.4 610.8,233.3 611.8,233.2 612.8,233.1 613.9,232.9 614.9,232.7 615.9,232.5 616.9,232.3 617.9,232.1 618.9,231.9 619.9,231.7 620.9,231.5 621.9,231.2 622.9,231.0 623.9,230.7 624.9,230.5 625.9,230.2 626.9,229.9 627.9,229.6 628.9,229.2 629.9,228.9 630.9,228.5 631.9,228.1 632.9,227.7 633.9,227.2 634.9,226.7 635.9,226.2 636.9,225.6 637.9,225.0 638.9,224.3 639.9,223.6 640.9,222.8 641.9,222.1 642.9,221.3 643.9,220.4 644.9,219.6 645.9,218.7 646.9,217.7 647.9,216.4 648.9,215.1 649.9,213.7 650.9,212.4 651.9,211.2 652.9,210.3 653.9,209.7 654.9,209.3 655.9,208.9 656.9,208.7 657.9,208.5 658.9,208.2 660.0,207.9 661.0,207.6 662.0,207.2 663.0,206.6 664.0,205.8 665.0,204.8 666.0,203.6 667.0,202.4 668.0,201.1 669.0,199.8 670.0,198.5 671.0,197.2 672.0,196.0 673.0,194.8 674.0,193.4 675.0,192.0 676.0,190.6 677.0,189.2 678.0,187.9 679.0,186.6 680.0,185.5 681.0,184.5 682.0,183.6 683.0,182.6 684.0,181.8 685.0,181.0 686.0,180.5 687.0,180.3 688.0,180.5 689.0,181.1 690.0,182.0 691.0,183.0 692.0,185.0 693.0,188.1 694.0,191.7 695.0,195.5 696.0,199.3 697.0,203.8 698.0,208.5 699.0,213.1 700.0,217.3 701.0,220.8 702.0,224.1 703.0,227.3 704.0,230.1 705.0,232.3 706.1,233.8 707.1,235.2 708.1,236.4 709.1,237.4 710.1,238.2 711.1,238.6 712.1,238.8 713.1,239.0 714.1,239.1 715.1,239.3 716.1,239.4 717.1,239.5 718.1,239.6 719.1,239.7 720.1,239.7 721.1,239.8 722.1,239.8 723.1,239.8 724.1,239.8 725.1,239.8 726.1,239.8 727.1,239.8 728.1,239.8 729.1,239.8 730.1,239.9 731.1,239.9 732.1,239.9 733.1,239.9 734.1,239.9 735.1,239.9 736.1,239.9 737.1,239.9 738.1,239.9 739.1,239.9 740.1,239.9 741.1,239.9 742.1,239.9 743.1,239.9 744.1,239.9 745.1,240.0 746.1,240.0 747.1,240.0 748.1,240.0 749.1,240.0 750.1,240.0 751.1,240.0 752.2,240.0 753.2,240.0 754.2,240.0 755.2,240.0 756.2,240.0 757.2,240.0 758.2,240.0 759.2,240.0 760.2,240.0 761.2,240.0 762.2,240.0 763.2,240.0 764.2,240.0 765.2,240.0 766.2,240.0 767.2,240.0 768.2,240.0 769.2,240.0 770.2,240.0 771.2,240.0 772.2,240.0 773.2,240.0 774.2,240.0" fill="none" stroke="#ff0000" stroke-width="1.9" stroke-linejoin="round" clip-path="url(#cb)"/>
<path d="M453.5,222.5 454.5,224.4 455.5,226.2 456.5,227.4 457.5,228.1 458.5,228.7 459.5,229.2 460.5,229.6 461.5,230.0 462.5,230.3 463.5,230.6 464.5,230.9 465.5,231.1 466.5,231.4 467.5,231.7 468.5,231.9 469.5,232.2 470.5,232.4 471.5,232.7 472.5,232.9 473.5,233.1 474.5,233.3 475.5,233.5 476.6,233.7 477.6,233.8 478.6,233.9 479.6,234.1 480.6,234.2 481.6,234.3 482.6,234.4 483.6,234.5 484.6,234.6 485.6,234.7 486.6,234.8 487.6,234.9 488.6,234.9 489.6,235.0 490.6,235.1 491.6,235.2 492.6,235.2 493.6,235.3 494.6,235.4 495.6,235.4 496.6,235.5 497.6,235.6 498.6,235.6 499.6,235.7 500.6,235.8 501.6,235.8 502.6,235.9 503.6,235.9 504.6,236.0 505.6,236.1 506.6,236.1 507.6,236.2 508.6,236.3 509.6,236.3 510.6,236.4 511.6,236.4 512.6,236.5 513.6,236.6 514.6,236.6 515.6,236.7 516.6,236.7 517.6,236.8 518.6,236.9 519.6,236.9 520.6,237.0 521.6,237.0 522.7,237.1 523.7,237.1 524.7,237.1 525.7,237.2 526.7,237.2 527.7,237.3 528.7,237.3 529.7,237.3 530.7,237.4 531.7,237.4 532.7,237.4 533.7,237.4 534.7,237.5 535.7,237.5 536.7,237.5 537.7,237.5 538.7,237.6 539.7,237.6 540.7,237.6 541.7,237.6 542.7,237.6 543.7,237.7 544.7,237.7 545.7,237.7 546.7,237.7 547.7,237.7 548.7,237.7 549.7,237.8 550.7,237.8 551.7,237.8 552.7,237.8 553.7,237.8 554.7,237.8 555.7,237.8 556.7,237.8 557.7,237.8 558.7,237.8 559.7,237.8 560.7,237.8 561.7,237.8 562.7,237.8 563.7,237.8 564.7,237.8 565.7,237.8 566.7,237.8 567.7,237.8 568.8,237.8 569.8,237.8 570.8,237.8 571.8,237.8 572.8,237.8 573.8,237.8 574.8,237.8 575.8,237.8 576.8,237.8 577.8,237.8 578.8,237.8 579.8,237.8 580.8,237.8 581.8,237.8 582.8,237.8 583.8,237.8 584.8,237.8 585.8,237.8 586.8,237.8 587.8,237.8 588.8,237.8 589.8,237.8 590.8,237.8 591.8,237.8 592.8,237.8 593.8,237.8 594.8,237.8 595.8,237.8 596.8,237.8 597.8,237.8 598.8,237.8 599.8,237.8 600.8,237.8 601.8,237.8 602.8,237.8 603.8,237.8 604.8,237.8 605.8,237.8 606.8,237.8 607.8,237.8 608.8,237.8 609.8,237.7 610.8,237.7 611.8,237.6 612.8,237.5 613.9,237.3 614.9,237.2 615.9,237.1 616.9,236.9 617.9,236.8 618.9,236.7 619.9,236.5 620.9,236.4 621.9,236.2 622.9,236.1 623.9,235.9 624.9,235.8 625.9,235.6 626.9,235.4 627.9,235.2 628.9,235.0 629.9,234.8 630.9,234.6 631.9,234.3 632.9,234.1 633.9,233.8 634.9,233.4 635.9,233.0 636.9,232.6 637.9,232.1 638.9,231.6 639.9,231.1 640.9,230.6 641.9,230.0 642.9,229.4 643.9,228.8 644.9,228.2 645.9,227.6 646.9,226.9 647.9,226.1 648.9,225.3 649.9,224.5 650.9,223.7 651.9,222.9 652.9,222.3 653.9,221.9 654.9,221.6 655.9,221.3 656.9,221.1 657.9,220.9 658.9,220.7 660.0,220.4 661.0,220.2 662.0,219.8 663.0,219.4 664.0,218.8 665.0,218.2 666.0,217.5 667.0,216.8 668.0,216.0 669.0,215.2 670.0,214.4 671.0,213.6 672.0,212.9 673.0,212.0 674.0,211.2 675.0,210.3 676.0,209.4 677.0,208.5 678.0,207.6 679.0,206.9 680.0,206.1 681.0,205.5 682.0,204.9 683.0,204.4 684.0,203.8 685.0,203.4 686.0,203.1 687.0,203.0 688.0,203.1 689.0,203.5 690.0,204.2 691.0,204.9 692.0,206.3 693.0,208.5 694.0,211.0 695.0,213.6 696.0,216.0 697.0,218.7 698.0,221.5 699.0,224.3 700.0,226.7 701.0,228.8 702.0,230.9 703.0,232.8 704.0,234.5 705.0,235.9 706.1,236.9 707.1,237.8 708.1,238.5 709.1,239.2 710.1,239.7 711.1,240.0 712.1,240.1 713.1,240.3 714.1,240.4 715.1,240.5 716.1,240.6 717.1,240.7 718.1,240.7 719.1,240.8 720.1,240.8 721.1,240.9 722.1,240.9 723.1,240.9 724.1,240.9 725.1,240.9 726.1,240.9 727.1,240.9 728.1,240.9 729.1,241.0 730.1,241.0 731.1,241.0 732.1,241.0 733.1,241.0 734.1,241.0 735.1,241.0 736.1,241.0 737.1,241.0 738.1,241.0 739.1,241.0 740.1,241.0 741.1,241.0 742.1,241.0 743.1,241.1 744.1,241.1 745.1,241.1 746.1,241.1 747.1,241.1 748.1,241.1 749.1,241.1 750.1,241.1 751.1,241.1 752.2,241.1 753.2,241.1 754.2,241.1 755.2,241.1 756.2,241.1 757.2,241.1 758.2,241.1 759.2,241.1 760.2,241.1 761.2,241.1 762.2,241.1 763.2,241.1 764.2,241.1 765.2,241.1 766.2,241.1 767.2,241.1 768.2,241.1 769.2,241.1 770.2,241.1 771.2,241.1 772.2,241.1 773.2,241.1 774.2,241.1" fill="none" stroke="#0000ff" stroke-width="1.9" stroke-linejoin="round" clip-path="url(#cb)"/>
<path d="M453.5,224.9 454.5,225.7 455.5,226.5 456.5,227.0 457.5,227.5 458.5,227.9 459.5,228.2 460.5,228.5 461.5,228.8 462.5,229.0 463.5,229.3 464.5,229.5 465.5,229.8 466.5,230.1 467.5,230.4 468.5,230.8 469.5,231.2 470.5,231.6 471.5,232.0 472.5,232.4 473.5,232.8 474.5,233.1 475.5,233.4 476.6,233.7 477.6,233.9 478.6,234.0 479.6,234.0 480.6,234.1 481.6,234.1 482.6,234.1 483.6,234.1 484.6,234.2 485.6,234.2 486.6,234.2 487.6,234.2 488.6,234.2 489.6,234.2 490.6,234.3 491.6,234.3 492.6,234.3 493.6,234.3 494.6,234.3 495.6,234.3 496.6,234.3 497.6,234.3 498.6,234.3 499.6,234.4 500.6,234.4 501.6,234.4 502.6,234.4 503.6,234.4 504.6,234.5 505.6,234.5 506.6,234.5 507.6,234.6 508.6,234.6 509.6,234.7 510.6,234.7 511.6,234.8 512.6,234.9 513.6,235.0 514.6,235.0 515.6,235.1 516.6,235.2 517.6,235.3 518.6,235.4 519.6,235.5 520.6,235.6 521.6,235.7 522.7,235.8 523.7,235.9 524.7,236.0 525.7,236.1 526.7,236.1 527.7,236.2 528.7,236.3 529.7,236.4 530.7,236.5 531.7,236.6 532.7,236.6 533.7,236.7 534.7,236.8 535.7,236.9 536.7,237.0 537.7,237.1 538.7,237.2 539.7,237.3 540.7,237.4 541.7,237.6 542.7,237.7 543.7,237.7 544.7,237.8 545.7,237.9 546.7,238.0 547.7,238.1 548.7,238.2 549.7,238.2 550.7,238.3 551.7,238.4 552.7,238.4 553.7,238.4 554.7,238.4 555.7,238.5 556.7,238.5 557.7,238.5 558.7,238.5 559.7,238.5 560.7,238.5 561.7,238.5 562.7,238.5 563.7,238.5 564.7,238.5 565.7,238.5 566.7,238.5 567.7,238.5 568.8,238.5 569.8,238.5 570.8,238.5 571.8,238.5 572.8,238.5 573.8,238.5 574.8,238.5 575.8,238.5 576.8,238.5 577.8,238.5 578.8,238.5 579.8,238.5 580.8,238.5 581.8,238.5 582.8,238.5 583.8,238.5 584.8,238.5 585.8,238.5 586.8,238.5 587.8,238.5 588.8,238.5 589.8,238.5 590.8,238.5 591.8,238.5 592.8,238.5 593.8,238.5 594.8,238.5 595.8,238.5 596.8,238.5 597.8,238.5 598.8,238.5 599.8,238.5 600.8,238.5 601.8,238.5 602.8,238.5 603.8,238.5 604.8,238.5 605.8,238.5 606.8,238.5 607.8,238.5 608.8,238.4 609.8,238.4 610.8,238.3 611.8,238.3 612.8,238.2 613.9,238.1 614.9,238.0 615.9,237.9 616.9,237.8 617.9,237.6 618.9,237.5 619.9,237.4 620.9,237.3 621.9,237.2 622.9,237.0 623.9,236.9 624.9,236.7 625.9,236.6 626.9,236.4 627.9,236.2 628.9,236.0 629.9,235.8 630.9,235.6 631.9,235.4 632.9,235.2 633.9,234.9 634.9,234.6 635.9,234.3 636.9,233.9 637.9,233.6 638.9,233.2 639.9,232.7 640.9,232.3 641.9,231.8 642.9,231.3 643.9,230.8 644.9,230.3 645.9,229.8 646.9,229.2 647.9,228.6 648.9,227.9 649.9,227.1 650.9,226.4 651.9,225.8 652.9,225.2 653.9,224.8 654.9,224.5 655.9,224.2 656.9,224.0 657.9,223.8 658.9,223.5 660.0,223.3 661.0,223.0 662.0,222.7 663.0,222.3 664.0,221.9 665.0,221.3 666.0,220.8 667.0,220.2 668.0,219.6 669.0,219.0 670.0,218.4 671.0,217.9 672.0,217.4 673.0,216.9 674.0,216.4 675.0,215.9 676.0,215.4 677.0,214.9 678.0,214.5 679.0,214.0 680.0,213.6 681.0,213.2 682.0,212.9 683.0,212.4 684.0,212.0 685.0,211.7 686.0,211.5 687.0,211.4 688.0,211.5 689.0,211.8 690.0,212.3 691.0,212.8 692.0,213.9 693.0,215.5 694.0,217.4 695.0,219.3 696.0,221.2 697.0,223.5 698.0,225.8 699.0,228.1 700.0,230.2 701.0,232.0 702.0,233.7 703.0,235.3 704.0,236.7 705.0,237.8 706.1,238.6 707.1,239.2 708.1,239.8 709.1,240.3 710.1,240.7 711.1,240.9 712.1,241.0 713.1,241.0 714.1,241.1 715.1,241.1 716.1,241.2 717.1,241.2 718.1,241.3 719.1,241.3 720.1,241.3 721.1,241.3 722.1,241.3 723.1,241.3 724.1,241.4 725.1,241.4 726.1,241.4 727.1,241.4 728.1,241.4 729.1,241.4 730.1,241.4 731.1,241.4 732.1,241.4 733.1,241.4 734.1,241.4 735.1,241.4 736.1,241.4 737.1,241.5 738.1,241.5 739.1,241.5 740.1,241.5 741.1,241.5 742.1,241.5 743.1,241.5 744.1,241.5 745.1,241.5 746.1,241.5 747.1,241.5 748.1,241.5 749.1,241.5 750.1,241.5 751.1,241.5 752.2,241.5 753.2,241.5 754.2,241.5 755.2,241.5 756.2,241.5 757.2,241.5 758.2,241.5 759.2,241.5 760.2,241.6 761.2,241.6 762.2,241.6 763.2,241.6 764.2,241.6 765.2,241.6 766.2,241.6 767.2,241.6 768.2,241.6 769.2,241.6 770.2,241.6 771.2,241.6 772.2,241.6 773.2,241.6 774.2,241.6" fill="none" stroke="#008080" stroke-width="1.9" stroke-linejoin="round" clip-path="url(#cb)"/>
<path d="M453.5,227.6 454.5,228.4 455.5,229.1 456.5,229.7 457.5,230.1 458.5,230.5 459.5,230.9 460.5,231.2 461.5,231.5 462.5,231.7 463.5,232.0 464.5,232.2 465.5,232.5 466.5,232.7 467.5,233.0 468.5,233.3 469.5,233.6 470.5,233.9 471.5,234.2 472.5,234.5 473.5,234.8 474.5,235.0 475.5,235.3 476.6,235.5 477.6,235.7 478.6,235.9 479.6,236.1 480.6,236.2 481.6,236.4 482.6,236.5 483.6,236.7 484.6,236.8 485.6,237.0 486.6,237.1 487.6,237.2 488.6,237.3 489.6,237.4 490.6,237.5 491.6,237.6 492.6,237.8 493.6,237.9 494.6,238.0 495.6,238.1 496.6,238.1 497.6,238.2 498.6,238.3 499.6,238.4 500.6,238.5 501.6,238.6 502.6,238.7 503.6,238.8 504.6,238.9 505.6,239.0 506.6,239.1 507.6,239.2 508.6,239.3 509.6,239.4 510.6,239.5 511.6,239.6 512.6,239.6 513.6,239.7 514.6,239.8 515.6,239.9 516.6,240.0 517.6,240.1 518.6,240.2 519.6,240.3 520.6,240.4 521.6,240.4 522.7,240.5 523.7,240.6 524.7,240.6 525.7,240.7 526.7,240.7 527.7,240.8 528.7,240.8 529.7,240.9 530.7,240.9 531.7,240.9 532.7,241.0 533.7,241.0 534.7,241.0 535.7,241.0 536.7,241.1 537.7,241.1 538.7,241.1 539.7,241.1 540.7,241.2 541.7,241.2 542.7,241.2 543.7,241.2 544.7,241.2 545.7,241.3 546.7,241.3 547.7,241.3 548.7,241.3 549.7,241.3 550.7,241.3 551.7,241.3 552.7,241.3 553.7,241.3 554.7,241.3 555.7,241.3 556.7,241.3 557.7,241.3 558.7,241.3 559.7,241.3 560.7,241.3 561.7,241.3 562.7,241.3 563.7,241.3 564.7,241.3 565.7,241.3 566.7,241.3 567.7,241.3 568.8,241.3 569.8,241.3 570.8,241.3 571.8,241.3 572.8,241.3 573.8,241.3 574.8,241.3 575.8,241.3 576.8,241.3 577.8,241.3 578.8,241.3 579.8,241.3 580.8,241.3 581.8,241.3 582.8,241.3 583.8,241.3 584.8,241.3 585.8,241.3 586.8,241.3 587.8,241.3 588.8,241.3 589.8,241.3 590.8,241.3 591.8,241.2 592.8,241.2 593.8,241.2 594.8,241.2 595.8,241.2 596.8,241.2 597.8,241.2 598.8,241.2 599.8,241.2 600.8,241.2 601.8,241.2 602.8,241.2 603.8,241.2 604.8,241.1 605.8,241.1 606.8,241.1 607.8,241.1 608.8,241.1 609.8,241.0 610.8,241.0 611.8,240.9 612.8,240.8 613.9,240.6 614.9,240.5 615.9,240.4 616.9,240.2 617.9,240.1 618.9,240.0 619.9,239.8 620.9,239.7 621.9,239.6 622.9,239.5 623.9,239.3 624.9,239.2 625.9,239.0 626.9,238.9 627.9,238.7 628.9,238.6 629.9,238.4 630.9,238.2 631.9,238.0 632.9,237.8 633.9,237.6 634.9,237.4 635.9,237.2 636.9,237.0 637.9,236.7 638.9,236.4 639.9,236.2 640.9,235.9 641.9,235.6 642.9,235.3 643.9,234.9 644.9,234.6 645.9,234.2 646.9,233.8 647.9,233.4 648.9,232.8 649.9,232.3 650.9,231.7 651.9,231.2 652.9,230.7 653.9,230.4 654.9,230.0 655.9,229.7 656.9,229.5 657.9,229.2 658.9,228.9 660.0,228.7 661.0,228.4 662.0,228.0 663.0,227.7 664.0,227.2 665.0,226.8 666.0,226.3 667.0,225.8 668.0,225.3 669.0,224.8 670.0,224.4 671.0,223.9 672.0,223.4 673.0,222.9 674.0,222.4 675.0,221.9 676.0,221.4 677.0,220.9 678.0,220.4 679.0,220.0 680.0,219.6 681.0,219.2 682.0,218.9 683.0,218.6 684.0,218.3 685.0,218.0 686.0,217.9 687.0,217.8 688.0,218.0 689.0,218.3 690.0,218.7 691.0,219.3 692.0,220.2 693.0,221.6 694.0,223.3 695.0,224.9 696.0,226.5 697.0,228.4 698.0,230.2 699.0,232.1 700.0,233.7 701.0,235.0 702.0,236.3 703.0,237.5 704.0,238.6 705.0,239.5 706.1,240.1 707.1,240.6 708.1,241.1 709.1,241.5 710.1,241.8 711.1,242.0 712.1,242.1 713.1,242.2 714.1,242.3 715.1,242.3 716.1,242.4 717.1,242.5 718.1,242.5 719.1,242.6 720.1,242.6 721.1,242.6 722.1,242.7 723.1,242.7 724.1,242.7 725.1,242.7 726.1,242.7 727.1,242.7 728.1,242.8 729.1,242.8 730.1,242.8 731.1,242.8 732.1,242.8 733.1,242.8 734.1,242.9 735.1,242.9 736.1,242.9 737.1,242.9 738.1,242.9 739.1,242.9 740.1,242.9 741.1,242.9 742.1,242.9 743.1,243.0 744.1,243.0 745.1,243.0 746.1,243.0 747.1,243.0 748.1,243.0 749.1,243.0 750.1,243.0 751.1,243.0 752.2,243.0 753.2,243.0 754.2,243.1 755.2,243.1 756.2,243.1 757.2,243.1 758.2,243.1 759.2,243.1 760.2,243.1 761.2,243.1 762.2,243.1 763.2,243.1 764.2,243.1 765.2,243.1 766.2,243.1 767.2,243.1 768.2,243.1 769.2,243.1 770.2,243.1 771.2,243.1 772.2,243.1 773.2,243.1 774.2,243.1" fill="none" stroke="#ff00ff" stroke-width="1.9" stroke-linejoin="round" clip-path="url(#cb)"/>
<line x1="453.35" y1="240.9" x2="457.85" y2="240.9" stroke="#000" stroke-width="2.0" />
<line x1="453.35" y1="218.71" x2="455.85" y2="218.71" stroke="#000" stroke-width="2.0" />
<line x1="453.35" y1="196.52" x2="457.85" y2="196.52" stroke="#000" stroke-width="2.0" />
<line x1="453.35" y1="174.33" x2="455.85" y2="174.33" stroke="#000" stroke-width="2.0" />
<line x1="453.35" y1="152.14" x2="457.85" y2="152.14" stroke="#000" stroke-width="2.0" />
<line x1="453.35" y1="129.95" x2="455.85" y2="129.95" stroke="#000" stroke-width="2.0" />
<line x1="453.35" y1="107.76" x2="457.85" y2="107.76" stroke="#000" stroke-width="2.0" />
<line x1="453.35" y1="85.57" x2="455.85" y2="85.57" stroke="#000" stroke-width="2.0" />
<line x1="453.35" y1="63.38" x2="457.85" y2="63.38" stroke="#000" stroke-width="2.0" />
<line x1="453.35" y1="41.19" x2="455.85" y2="41.19" stroke="#000" stroke-width="2.0" />
<line x1="453.35" y1="19" x2="457.85" y2="19" stroke="#000" stroke-width="2.0" />
<line x1="453.5" y1="251.6" x2="453.5" y2="247.1" stroke="#000" stroke-width="2.0" />
<line x1="485.57" y1="251.6" x2="485.57" y2="249.1" stroke="#000" stroke-width="2.0" />
<line x1="517.64" y1="251.6" x2="517.64" y2="247.1" stroke="#000" stroke-width="2.0" />
<line x1="549.71" y1="251.6" x2="549.71" y2="249.1" stroke="#000" stroke-width="2.0" />
<line x1="581.78" y1="251.6" x2="581.78" y2="247.1" stroke="#000" stroke-width="2.0" />
<line x1="613.85" y1="251.6" x2="613.85" y2="249.1" stroke="#000" stroke-width="2.0" />
<line x1="645.92" y1="251.6" x2="645.92" y2="247.1" stroke="#000" stroke-width="2.0" />
<line x1="677.99" y1="251.6" x2="677.99" y2="249.1" stroke="#000" stroke-width="2.0" />
<line x1="710.06" y1="251.6" x2="710.06" y2="247.1" stroke="#000" stroke-width="2.0" />
<line x1="742.13" y1="251.6" x2="742.13" y2="249.1" stroke="#000" stroke-width="2.0" />
<line x1="774.2" y1="251.6" x2="774.2" y2="247.1" stroke="#000" stroke-width="2.0" />
<rect x="453.35" y="18.75" width="320.85" height="232.85" fill="none" stroke="#000" stroke-width="2.2" stroke-linejoin="round"/>
<text x="448.3" y="244.7" font-size="12" text-anchor="end" font-weight="bold" fill="#000" >0.0</text>
<text x="448.3" y="200.32" font-size="12" text-anchor="end" font-weight="bold" fill="#000" >0.2</text>
<text x="448.3" y="155.94" font-size="12" text-anchor="end" font-weight="bold" fill="#000" >0.4</text>
<text x="448.3" y="111.56" font-size="12" text-anchor="end" font-weight="bold" fill="#000" >0.6</text>
<text x="448.3" y="67.18" font-size="12" text-anchor="end" font-weight="bold" fill="#000" >0.8</text>
<text x="448.3" y="22.8" font-size="12" text-anchor="end" font-weight="bold" fill="#000" >1.0</text>
<text x="453.5" y="266" font-size="12" text-anchor="middle" font-weight="bold" fill="#000" >300</text>
<text x="517.64" y="266" font-size="12" text-anchor="middle" font-weight="bold" fill="#000" >400</text>
<text x="581.78" y="266" font-size="12" text-anchor="middle" font-weight="bold" fill="#000" >500</text>
<text x="645.92" y="266" font-size="12" text-anchor="middle" font-weight="bold" fill="#000" >600</text>
<text x="710.06" y="266" font-size="12" text-anchor="middle" font-weight="bold" fill="#000" >700</text>
<text x="774.2" y="266" font-size="12" text-anchor="middle" font-weight="bold" fill="#000" >800</text>
<text x="614.4" y="289" font-size="13.4" text-anchor="middle" font-weight="bold" fill="#000" >Wavelength (nm)</text>
<text x="0" y="0" font-size="13.75" font-weight="bold" text-anchor="middle" transform="translate(413.5,135.8) rotate(-90)">Absorbance (arb. unit)</text>
<text x="399.6" y="25.5" font-size="22" text-anchor="start" font-weight="bold" fill="#000" >b</text>
<text x="730.8" y="39.9" font-size="19" text-anchor="start" font-weight="bold" fill="#000"  textLength="35.7" lengthAdjust="spacingAndGlyphs">CP2</text>
<line x1="463.3" y1="31.5" x2="492" y2="31.5" stroke="#000" stroke-width="2" />
<text x="495.5" y="36.4" font-size="12.15" text-anchor="start" font-weight="bold" fill="#000" >Reference</text>
<line x1="463.3" y1="47" x2="492" y2="47" stroke="#ff0000" stroke-width="2" />
<text x="495.5" y="51.9" font-size="12.15" text-anchor="start" font-weight="bold" fill="#000" >15 minutes</text>
<line x1="463.3" y1="62.5" x2="492" y2="62.5" stroke="#0000ff" stroke-width="2" />
<text x="495.5" y="67.4" font-size="12.15" text-anchor="start" font-weight="bold" fill="#000" >30 minutes</text>
<line x1="463.3" y1="78" x2="492" y2="78" stroke="#008080" stroke-width="2" />
<text x="495.5" y="82.9" font-size="12.15" text-anchor="start" font-weight="bold" fill="#000" >45 minutes</text>
<line x1="463.3" y1="93.5" x2="492" y2="93.5" stroke="#ff00ff" stroke-width="2" />
<text x="495.5" y="98.4" font-size="12.15" text-anchor="start" font-weight="bold" fill="#000" >60 minutes</text>
<text x="737.5" y="61.2" font-size="11" text-anchor="middle" font-weight="bold" fill="#000" >0 minute</text>
<text x="741.1" y="228.8" font-size="11" text-anchor="middle" font-weight="bold" fill="#000" >60 minutes</text>
<line x1="736.4" y1="62.4" x2="736.4" y2="211.5" stroke="#444" stroke-width="0.9" />
<path d="M734.4,210.5 L738.4,210.5 L736.4,216.5 Z" fill="#222"/>
<clipPath id="cc"><rect x="55.4" y="306.7" width="321.2" height="233.9"/></clipPath>
<path d="M55.4,465.0 56.4,473.7 57.4,481.9 58.4,489.6 59.4,497.1 60.4,503.2 61.4,508.1 62.4,511.9 63.4,514.0 64.4,515.4 65.4,516.4 66.4,517.1 67.4,517.5 68.4,517.9 69.5,518.2 70.5,518.5 71.5,518.7 72.5,518.9 73.5,519.1 74.5,519.4 75.5,520.2 76.5,521.5 77.5,523.0 78.5,524.7 79.5,526.6 80.5,528.4 81.5,529.7 82.5,530.5 83.5,531.2 84.5,531.8 85.5,532.3 86.5,532.7 87.5,533.1 88.5,533.4 89.5,533.7 90.5,533.9 91.5,534.1 92.5,534.3 93.5,534.3 94.5,534.4 95.6,534.4 96.6,534.5 97.6,534.5 98.6,534.5 99.6,534.5 100.6,534.5 101.6,534.4 102.6,534.4 103.6,534.3 104.6,534.2 105.6,534.1 106.6,534.0 107.6,533.9 108.6,533.8 109.6,533.6 110.6,533.4 111.6,533.2 112.6,532.9 113.6,532.7 114.6,532.5 115.6,532.4 116.6,532.3 117.6,532.3 118.6,532.3 119.6,532.5 120.6,532.6 121.6,532.8 122.7,532.9 123.7,533.1 124.7,533.2 125.7,533.4 126.7,533.4 127.7,533.5 128.7,533.6 129.7,533.7 130.7,533.7 131.7,533.8 132.7,533.8 133.7,533.8 134.7,533.8 135.7,533.8 136.7,533.7 137.7,533.6 138.7,533.5 139.7,533.3 140.7,533.2 141.7,533.0 142.7,532.9 143.7,532.7 144.7,532.6 145.7,532.4 146.7,532.3 147.7,532.1 148.7,531.9 149.8,531.7 150.8,531.5 151.8,531.3 152.8,531.1 153.8,530.9 154.8,530.7 155.8,530.5 156.8,530.4 157.8,530.2 158.8,530.0 159.8,529.9 160.8,529.7 161.8,529.6 162.8,529.4 163.8,529.2 164.8,529.1 165.8,528.9 166.8,528.8 167.8,528.7 168.8,528.5 169.8,528.4 170.8,528.3 171.8,528.2 172.8,528.1 173.8,528.0 174.8,527.9 175.9,527.8 176.9,527.7 177.9,527.6 178.9,527.5 179.9,527.4 180.9,527.3 181.9,527.2 182.9,527.1 183.9,527.0 184.9,526.9 185.9,526.8 186.9,526.7 187.9,526.6 188.9,526.5 189.9,526.4 190.9,526.2 191.9,526.1 192.9,526.0 193.9,525.8 194.9,525.7 195.9,525.5 196.9,525.3 197.9,525.2 198.9,525.0 199.9,524.7 200.9,524.5 201.9,524.2 203.0,523.9 204.0,523.5 205.0,523.1 206.0,522.7 207.0,522.1 208.0,521.5 209.0,520.8 210.0,520.1 211.0,519.5 212.0,518.8 213.0,518.1 214.0,517.5 215.0,516.8 216.0,516.0 217.0,515.3 218.0,514.5 219.0,513.7 220.0,512.9 221.0,512.0 222.0,511.1 223.0,510.2 224.0,509.2 225.0,508.2 226.0,507.1 227.0,506.0 228.0,504.8 229.0,503.6 230.1,502.2 231.1,500.8 232.1,499.2 233.1,497.4 234.1,495.4 235.1,493.3 236.1,491.1 237.1,488.8 238.1,486.4 239.1,483.8 240.1,481.0 241.1,478.1 242.1,475.1 243.1,471.9 244.1,468.8 245.1,465.3 246.1,461.7 247.1,457.9 248.1,454.3 249.1,450.8 250.1,447.5 251.1,444.4 252.1,441.3 253.1,438.8 254.1,437.0 255.1,435.5 256.2,434.3 257.2,433.5 258.2,433.1 259.2,432.9 260.2,432.7 261.2,432.5 262.2,432.2 263.2,431.7 264.2,431.0 265.2,430.1 266.2,429.0 267.2,427.9 268.2,426.4 269.2,424.7 270.2,422.8 271.2,420.5 272.2,417.5 273.2,413.6 274.2,409.2 275.2,404.5 276.2,399.9 277.2,394.9 278.2,389.6 279.2,384.2 280.2,378.7 281.2,373.1 282.2,367.7 283.3,361.4 284.3,355.2 285.3,350.0 286.3,347.0 287.3,345.0 288.3,343.4 289.3,342.6 290.3,343.2 291.3,345.8 292.3,349.3 293.3,354.2 294.3,361.6 295.3,370.8 296.3,381.1 297.3,394.5 298.3,410.8 299.3,426.5 300.3,439.9 301.3,452.6 302.3,464.4 303.3,474.6 304.3,483.8 305.3,492.4 306.3,500.0 307.3,506.1 308.3,510.7 309.3,514.5 310.4,517.8 311.4,520.4 312.4,522.4 313.4,523.8 314.4,525.0 315.4,526.1 316.4,527.0 317.4,527.8 318.4,528.4 319.4,528.8 320.4,529.1 321.4,529.3 322.4,529.5 323.4,529.7 324.4,529.9 325.4,530.0 326.4,530.1 327.4,530.2 328.4,530.3 329.4,530.3 330.4,530.3 331.4,530.4 332.4,530.4 333.4,530.4 334.4,530.5 335.4,530.5 336.5,530.5 337.5,530.5 338.5,530.5 339.5,530.6 340.5,530.6 341.5,530.6 342.5,530.6 343.5,530.6 344.5,530.6 345.5,530.7 346.5,530.7 347.5,530.7 348.5,530.7 349.5,530.7 350.5,530.7 351.5,530.7 352.5,530.7 353.5,530.7 354.5,530.8 355.5,530.8 356.5,530.8 357.5,530.8 358.5,530.8 359.5,530.8 360.5,530.8 361.5,530.8 362.5,530.8 363.6,530.9 364.6,530.9 365.6,530.9 366.6,530.9 367.6,530.9 368.6,530.9 369.6,530.9 370.6,530.9 371.6,530.9 372.6,530.9 373.6,530.9 374.6,530.9 375.6,530.9 376.6,530.9" fill="none" stroke="#000" stroke-width="1.9" stroke-linejoin="round" clip-path="url(#cc)"/>
<path d="M55.4,500.4 56.4,504.0 57.4,507.6 58.4,511.4 59.4,514.9 60.4,517.4 61.4,519.6 62.4,521.2 63.4,522.0 64.4,522.5 65.4,522.9 66.4,523.2 67.4,523.4 68.4,523.6 69.5,523.8 70.5,523.9 71.5,524.0 72.5,524.2 73.5,524.3 74.5,524.4 75.5,524.5 76.5,524.5 77.5,524.6 78.5,524.6 79.5,524.7 80.5,524.7 81.5,524.7 82.5,524.7 83.5,524.7 84.5,524.7 85.5,524.7 86.5,524.7 87.5,524.7 88.5,524.7 89.5,524.7 90.5,524.7 91.5,524.7 92.5,524.7 93.5,524.7 94.5,524.7 95.6,524.7 96.6,524.6 97.6,524.6 98.6,524.5 99.6,524.5 100.6,524.4 101.6,524.3 102.6,524.3 103.6,524.2 104.6,524.1 105.6,524.1 106.6,524.0 107.6,524.0 108.6,523.9 109.6,523.9 110.6,523.9 111.6,523.8 112.6,523.8 113.6,523.7 114.6,523.7 115.6,523.6 116.6,523.6 117.6,523.6 118.6,523.6 119.6,523.6 120.6,523.6 121.6,523.6 122.7,523.6 123.7,523.6 124.7,523.6 125.7,523.6 126.7,523.6 127.7,523.6 128.7,523.6 129.7,523.6 130.7,523.6 131.7,523.6 132.7,523.6 133.7,523.6 134.7,523.6 135.7,523.6 136.7,523.6 137.7,523.6 138.7,523.6 139.7,523.6 140.7,523.6 141.7,523.6 142.7,523.6 143.7,523.6 144.7,523.6 145.7,523.6 146.7,523.6 147.7,523.6 148.7,523.6 149.8,523.6 150.8,523.6 151.8,523.6 152.8,523.6 153.8,523.5 154.8,523.5 155.8,523.5 156.8,523.5 157.8,523.5 158.8,523.5 159.8,523.5 160.8,523.5 161.8,523.5 162.8,523.5 163.8,523.4 164.8,523.4 165.8,523.4 166.8,523.4 167.8,523.4 168.8,523.4 169.8,523.4 170.8,523.4 171.8,523.3 172.8,523.3 173.8,523.3 174.8,523.3 175.9,523.3 176.9,523.3 177.9,523.3 178.9,523.3 179.9,523.2 180.9,523.2 181.9,523.2 182.9,523.2 183.9,523.2 184.9,523.2 185.9,523.2 186.9,523.1 187.9,523.1 188.9,523.1 189.9,523.1 190.9,523.1 191.9,523.0 192.9,523.0 193.9,523.0 194.9,523.0 195.9,522.9 196.9,522.9 197.9,522.9 198.9,522.8 199.9,522.8 200.9,522.8 201.9,522.7 203.0,522.7 204.0,522.6 205.0,522.6 206.0,522.5 207.0,522.5 208.0,522.4 209.0,522.3 210.0,522.2 211.0,522.0 212.0,521.8 213.0,521.6 214.0,521.2 215.0,520.9 216.0,520.5 217.0,520.0 218.0,519.6 219.0,519.1 220.0,518.6 221.0,518.1 222.0,517.5 223.0,517.0 224.0,516.4 225.0,515.7 226.0,515.0 227.0,514.2 228.0,513.5 229.0,512.7 230.1,512.0 231.1,511.3 232.1,510.6 233.1,509.9 234.1,509.1 235.1,508.4 236.1,507.6 237.1,506.8 238.1,505.9 239.1,505.0 240.1,504.1 241.1,503.1 242.1,502.0 243.1,500.8 244.1,499.6 245.1,498.3 246.1,497.1 247.1,495.8 248.1,494.6 249.1,493.3 250.1,492.0 251.1,490.5 252.1,489.2 253.1,488.0 254.1,486.9 255.1,486.2 256.2,485.6 257.2,485.3 258.2,484.9 259.2,484.6 260.2,484.3 261.2,484.0 262.2,483.5 263.2,482.9 264.2,482.2 265.2,481.3 266.2,480.3 267.2,479.3 268.2,478.1 269.2,476.9 270.2,475.5 271.2,474.1 272.2,472.3 273.2,470.2 274.2,468.0 275.2,465.5 276.2,463.1 277.2,460.6 278.2,458.1 279.2,455.9 280.2,453.8 281.2,451.8 282.2,449.8 283.3,447.8 284.3,446.2 285.3,445.0 286.3,444.2 287.3,443.4 288.3,442.9 289.3,442.7 290.3,443.3 291.3,444.8 292.3,446.8 293.3,449.8 294.3,454.8 295.3,460.9 296.3,467.2 297.3,474.3 298.3,482.5 299.3,490.8 300.3,497.9 301.3,503.2 302.3,507.8 303.3,511.9 304.3,515.5 305.3,518.3 306.3,520.3 307.3,522.0 308.3,523.6 309.3,525.0 310.4,526.1 311.4,526.9 312.4,527.4 313.4,527.7 314.4,528.0 315.4,528.2 316.4,528.5 317.4,528.7 318.4,528.9 319.4,529.1 320.4,529.2 321.4,529.3 322.4,529.4 323.4,529.5 324.4,529.6 325.4,529.6 326.4,529.6 327.4,529.7 328.4,529.7 329.4,529.7 330.4,529.7 331.4,529.8 332.4,529.8 333.4,529.8 334.4,529.8 335.4,529.9 336.5,529.9 337.5,529.9 338.5,529.9 339.5,529.9 340.5,530.0 341.5,530.0 342.5,530.0 343.5,530.0 344.5,530.0 345.5,530.0 346.5,530.1 347.5,530.1 348.5,530.1 349.5,530.1 350.5,530.1 351.5,530.1 352.5,530.1 353.5,530.2 354.5,530.2 355.5,530.2 356.5,530.2 357.5,530.2 358.5,530.2 359.5,530.2 360.5,530.2 361.5,530.2 362.5,530.2 363.6,530.2 364.6,530.2 365.6,530.2 366.6,530.2 367.6,530.3 368.6,530.3 369.6,530.3 370.6,530.3 371.6,530.3 372.6,530.3 373.6,530.3 374.6,530.3 375.6,530.3 376.6,530.3" fill="none" stroke="#ff0000" stroke-width="1.9" stroke-linejoin="round" clip-path="url(#cc)"/>
<path d="M55.4,509.5 56.4,512.5 57.4,515.1 58.4,517.1 59.4,518.8 60.4,520.3 61.4,521.5 62.4,522.2 63.4,522.9 64.4,523.4 65.4,523.9 66.4,524.3 67.4,524.5 68.4,524.7 69.5,524.9 70.5,525.0 71.5,525.2 72.5,525.3 73.5,525.4 74.5,525.5 75.5,525.5 76.5,525.6 77.5,525.6 78.5,525.6 79.5,525.6 80.5,525.5 81.5,525.5 82.5,525.5 83.5,525.4 84.5,525.3 85.5,525.3 86.5,525.2 87.5,525.1 88.5,525.0 89.5,524.9 90.5,524.8 91.5,524.6 92.5,524.4 93.5,524.2 94.5,524.0 95.6,523.8 96.6,523.7 97.6,523.5 98.6,523.4 99.6,523.2 100.6,523.1 101.6,522.9 102.6,522.7 103.6,522.6 104.6,522.4 105.6,522.3 106.6,522.2 107.6,522.1 108.6,522.1 109.6,522.0 110.6,522.0 111.6,522.0 112.6,522.0 113.6,522.1 114.6,522.1 115.6,522.1 116.6,522.1 117.6,522.2 118.6,522.2 119.6,522.2 120.6,522.3 121.6,522.3 122.7,522.4 123.7,522.4 124.7,522.5 125.7,522.6 126.7,522.6 127.7,522.7 128.7,522.8 129.7,522.8 130.7,522.9 131.7,522.9 132.7,522.9 133.7,522.9 134.7,523.0 135.7,523.0 136.7,523.0 137.7,523.0 138.7,523.0 139.7,523.0 140.7,523.0 141.7,523.1 142.7,523.1 143.7,523.1 144.7,523.1 145.7,523.1 146.7,523.1 147.7,523.1 148.7,523.1 149.8,523.1 150.8,523.1 151.8,523.1 152.8,523.1 153.8,523.1 154.8,523.1 155.8,523.1 156.8,523.1 157.8,523.1 158.8,523.1 159.8,523.1 160.8,523.1 161.8,523.1 162.8,523.1 163.8,523.1 164.8,523.1 165.8,523.1 166.8,523.1 167.8,523.1 168.8,523.1 169.8,523.1 170.8,523.1 171.8,523.1 172.8,523.1 173.8,523.1 174.8,523.1 175.9,523.1 176.9,523.1 177.9,523.1 178.9,523.1 179.9,523.1 180.9,523.1 181.9,523.1 182.9,523.1 183.9,523.1 184.9,523.1 185.9,523.1 186.9,523.0 187.9,523.0 188.9,523.0 189.9,523.0 190.9,523.0 191.9,523.0 192.9,523.0 193.9,523.0 194.9,522.9 195.9,522.9 196.9,522.9 197.9,522.9 198.9,522.8 199.9,522.8 200.9,522.7 201.9,522.7 203.0,522.6 204.0,522.5 205.0,522.4 206.0,522.4 207.0,522.3 208.0,522.2 209.0,522.1 210.0,522.0 211.0,521.9 212.0,521.8 213.0,521.7 214.0,521.5 215.0,521.4 216.0,521.3 217.0,521.1 218.0,521.0 219.0,520.8 220.0,520.7 221.0,520.5 222.0,520.3 223.0,520.1 224.0,519.9 225.0,519.6 226.0,519.4 227.0,519.1 228.0,518.7 229.0,518.4 230.1,518.0 231.1,517.6 232.1,517.2 233.1,516.7 234.1,516.2 235.1,515.7 236.1,515.1 237.1,514.5 238.1,513.9 239.1,513.3 240.1,512.7 241.1,511.9 242.1,511.1 243.1,510.2 244.1,509.3 245.1,508.4 246.1,507.5 247.1,506.7 248.1,506.0 249.1,505.4 250.1,504.8 251.1,504.2 252.1,503.7 253.1,503.2 254.1,502.7 255.1,502.3 256.2,501.9 257.2,501.5 258.2,501.2 259.2,501.0 260.2,500.7 261.2,500.5 262.2,500.2 263.2,499.9 264.2,499.5 265.2,499.0 266.2,498.4 267.2,497.7 268.2,496.9 269.2,496.1 270.2,495.2 271.2,494.2 272.2,493.3 273.2,492.3 274.2,491.3 275.2,490.2 276.2,489.0 277.2,487.7 278.2,486.4 279.2,485.1 280.2,483.8 281.2,482.7 282.2,481.6 283.3,480.7 284.3,479.9 285.3,479.1 286.3,478.4 287.3,477.8 288.3,477.4 289.3,477.2 290.3,477.4 291.3,478.0 292.3,478.7 293.3,479.7 294.3,481.5 295.3,484.2 296.3,487.4 297.3,490.8 298.3,494.2 299.3,498.3 300.3,502.6 301.3,506.8 302.3,510.5 303.3,513.6 304.3,516.5 305.3,519.1 306.3,521.5 307.3,523.3 308.3,524.6 309.3,525.7 310.4,526.6 311.4,527.4 312.4,528.0 313.4,528.4 314.4,528.6 315.4,528.8 316.4,528.9 317.4,529.1 318.4,529.2 319.4,529.3 320.4,529.4 321.4,529.4 322.4,529.5 323.4,529.5 324.4,529.6 325.4,529.6 326.4,529.6 327.4,529.6 328.4,529.7 329.4,529.7 330.4,529.7 331.4,529.7 332.4,529.7 333.4,529.7 334.4,529.8 335.4,529.8 336.5,529.8 337.5,529.8 338.5,529.8 339.5,529.8 340.5,529.8 341.5,529.9 342.5,529.9 343.5,529.9 344.5,529.9 345.5,529.9 346.5,529.9 347.5,529.9 348.5,529.9 349.5,529.9 350.5,529.9 351.5,530.0 352.5,530.0 353.5,530.0 354.5,530.0 355.5,530.0 356.5,530.0 357.5,530.0 358.5,530.0 359.5,530.0 360.5,530.0 361.5,530.0 362.5,530.0 363.6,530.0 364.6,530.0 365.6,530.0 366.6,530.0 367.6,530.0 368.6,530.0 369.6,530.0 370.6,530.0 371.6,530.0 372.6,530.0 373.6,530.0 374.6,530.0 375.6,530.0 376.6,530.0" fill="none" stroke="#0000ff" stroke-width="1.9" stroke-linejoin="round" clip-path="url(#cc)"/>
<path d="M55.4,510.2 56.4,512.8 57.4,515.2 58.4,517.1 59.4,518.4 60.4,519.5 61.4,520.6 62.4,521.5 63.4,522.2 64.4,522.7 65.4,523.0 66.4,523.3 67.4,523.5 68.4,523.7 69.5,523.9 70.5,524.1 71.5,524.2 72.5,524.4 73.5,524.5 74.5,524.6 75.5,524.7 76.5,524.8 77.5,524.9 78.5,525.0 79.5,525.1 80.5,525.1 81.5,525.2 82.5,525.2 83.5,525.2 84.5,525.3 85.5,525.3 86.5,525.3 87.5,525.4 88.5,525.4 89.5,525.4 90.5,525.4 91.5,525.5 92.5,525.5 93.5,525.5 94.5,525.5 95.6,525.5 96.6,525.6 97.6,525.6 98.6,525.6 99.6,525.6 100.6,525.6 101.6,525.7 102.6,525.7 103.6,525.7 104.6,525.7 105.6,525.8 106.6,525.8 107.6,525.8 108.6,525.9 109.6,525.9 110.6,526.0 111.6,526.0 112.6,526.1 113.6,526.1 114.6,526.2 115.6,526.2 116.6,526.3 117.6,526.4 118.6,526.4 119.6,526.5 120.6,526.6 121.6,526.6 122.7,526.7 123.7,526.8 124.7,526.8 125.7,526.9 126.7,527.0 127.7,527.0 128.7,527.1 129.7,527.2 130.7,527.2 131.7,527.3 132.7,527.4 133.7,527.5 134.7,527.5 135.7,527.6 136.7,527.7 137.7,527.8 138.7,527.9 139.7,528.0 140.7,528.1 141.7,528.2 142.7,528.3 143.7,528.4 144.7,528.5 145.7,528.6 146.7,528.7 147.7,528.8 148.7,528.8 149.8,528.9 150.8,529.0 151.8,529.0 152.8,529.1 153.8,529.1 154.8,529.1 155.8,529.2 156.8,529.2 157.8,529.2 158.8,529.2 159.8,529.3 160.8,529.3 161.8,529.3 162.8,529.3 163.8,529.3 164.8,529.3 165.8,529.3 166.8,529.4 167.8,529.4 168.8,529.4 169.8,529.4 170.8,529.4 171.8,529.4 172.8,529.4 173.8,529.4 174.8,529.3 175.9,529.3 176.9,529.3 177.9,529.3 178.9,529.2 179.9,529.2 180.9,529.2 181.9,529.1 182.9,529.1 183.9,529.1 184.9,529.0 185.9,529.0 186.9,528.9 187.9,528.9 188.9,528.8 189.9,528.8 190.9,528.8 191.9,528.7 192.9,528.7 193.9,528.6 194.9,528.6 195.9,528.5 196.9,528.5 197.9,528.4 198.9,528.4 199.9,528.4 200.9,528.3 201.9,528.3 203.0,528.2 204.0,528.2 205.0,528.1 206.0,528.1 207.0,528.0 208.0,527.9 209.0,527.9 210.0,527.8 211.0,527.7 212.0,527.6 213.0,527.4 214.0,527.3 215.0,527.1 216.0,526.9 217.0,526.7 218.0,526.5 219.0,526.3 220.0,526.1 221.0,525.9 222.0,525.7 223.0,525.5 224.0,525.2 225.0,525.0 226.0,524.7 227.0,524.5 228.0,524.2 229.0,523.9 230.1,523.6 231.1,523.3 232.1,522.9 233.1,522.6 234.1,522.2 235.1,521.9 236.1,521.5 237.1,521.1 238.1,520.6 239.1,520.1 240.1,519.6 241.1,519.1 242.1,518.5 243.1,518.0 244.1,517.4 245.1,516.8 246.1,516.2 247.1,515.7 248.1,515.1 249.1,514.5 250.1,513.9 251.1,513.3 252.1,512.6 253.1,512.0 254.1,511.4 255.1,510.9 256.2,510.5 257.2,510.2 258.2,510.0 259.2,509.7 260.2,509.5 261.2,509.3 262.2,509.1 263.2,508.8 264.2,508.4 265.2,508.0 266.2,507.4 267.2,506.6 268.2,505.8 269.2,505.0 270.2,504.0 271.2,503.1 272.2,502.1 273.2,501.2 274.2,500.2 275.2,499.2 276.2,498.1 277.2,497.0 278.2,495.8 279.2,494.7 280.2,493.6 281.2,492.5 282.2,491.6 283.3,490.7 284.3,490.0 285.3,489.2 286.3,488.5 287.3,487.8 288.3,487.4 289.3,487.2 290.3,487.5 291.3,488.0 292.3,488.8 293.3,489.7 294.3,491.2 295.3,493.5 296.3,496.1 297.3,498.8 298.3,501.5 299.3,504.6 300.3,508.0 301.3,511.2 302.3,514.1 303.3,516.5 304.3,518.9 305.3,521.1 306.3,523.0 307.3,524.5 308.3,525.6 309.3,526.5 310.4,527.3 311.4,528.0 312.4,528.5 313.4,528.9 314.4,529.1 315.4,529.2 316.4,529.4 317.4,529.5 318.4,529.6 319.4,529.7 320.4,529.8 321.4,529.9 322.4,529.9 323.4,530.0 324.4,530.0 325.4,530.0 326.4,530.1 327.4,530.1 328.4,530.1 329.4,530.1 330.4,530.1 331.4,530.2 332.4,530.2 333.4,530.2 334.4,530.2 335.4,530.2 336.5,530.2 337.5,530.2 338.5,530.3 339.5,530.3 340.5,530.3 341.5,530.3 342.5,530.3 343.5,530.3 344.5,530.3 345.5,530.3 346.5,530.4 347.5,530.4 348.5,530.4 349.5,530.4 350.5,530.4 351.5,530.4 352.5,530.4 353.5,530.4 354.5,530.4 355.5,530.4 356.5,530.4 357.5,530.4 358.5,530.4 359.5,530.4 360.5,530.5 361.5,530.5 362.5,530.5 363.6,530.5 364.6,530.5 365.6,530.5 366.6,530.5 367.6,530.5 368.6,530.5 369.6,530.5 370.6,530.5 371.6,530.5 372.6,530.5 373.6,530.5 374.6,530.5 375.6,530.5 376.6,530.5" fill="none" stroke="#008080" stroke-width="1.9" stroke-linejoin="round" clip-path="url(#cc)"/>
<path d="M55.4,512.4 56.4,514.7 57.4,516.8 58.4,518.3 59.4,519.1 60.4,519.9 61.4,520.5 62.4,521.0 63.4,521.4 64.4,521.7 65.4,521.9 66.4,522.0 67.4,522.1 68.4,522.3 69.5,522.4 70.5,522.4 71.5,522.5 72.5,522.6 73.5,522.7 74.5,522.7 75.5,522.8 76.5,522.9 77.5,522.9 78.5,523.0 79.5,523.0 80.5,523.1 81.5,523.2 82.5,523.2 83.5,523.3 84.5,523.4 85.5,523.4 86.5,523.5 87.5,523.6 88.5,523.6 89.5,523.7 90.5,523.8 91.5,523.8 92.5,523.9 93.5,524.0 94.5,524.0 95.6,524.1 96.6,524.1 97.6,524.2 98.6,524.3 99.6,524.3 100.6,524.4 101.6,524.4 102.6,524.5 103.6,524.5 104.6,524.6 105.6,524.6 106.6,524.7 107.6,524.7 108.6,524.8 109.6,524.8 110.6,524.9 111.6,524.9 112.6,525.0 113.6,525.0 114.6,525.0 115.6,525.1 116.6,525.1 117.6,525.1 118.6,525.2 119.6,525.2 120.6,525.3 121.6,525.3 122.7,525.3 123.7,525.4 124.7,525.4 125.7,525.5 126.7,525.5 127.7,525.5 128.7,525.6 129.7,525.6 130.7,525.7 131.7,525.8 132.7,525.8 133.7,525.9 134.7,526.0 135.7,526.1 136.7,526.2 137.7,526.3 138.7,526.4 139.7,526.5 140.7,526.6 141.7,526.8 142.7,526.9 143.7,527.0 144.7,527.1 145.7,527.3 146.7,527.4 147.7,527.5 148.7,527.6 149.8,527.8 150.8,527.9 151.8,528.0 152.8,528.1 153.8,528.2 154.8,528.2 155.8,528.3 156.8,528.4 157.8,528.5 158.8,528.5 159.8,528.6 160.8,528.7 161.8,528.7 162.8,528.8 163.8,528.8 164.8,528.9 165.8,529.0 166.8,529.0 167.8,529.0 168.8,529.1 169.8,529.1 170.8,529.1 171.8,529.2 172.8,529.2 173.8,529.2 174.8,529.3 175.9,529.3 176.9,529.3 177.9,529.3 178.9,529.4 179.9,529.4 180.9,529.4 181.9,529.4 182.9,529.4 183.9,529.5 184.9,529.5 185.9,529.5 186.9,529.5 187.9,529.5 188.9,529.5 189.9,529.6 190.9,529.6 191.9,529.6 192.9,529.6 193.9,529.6 194.9,529.6 195.9,529.6 196.9,529.6 197.9,529.6 198.9,529.6 199.9,529.6 200.9,529.5 201.9,529.5 203.0,529.5 204.0,529.4 205.0,529.4 206.0,529.3 207.0,529.3 208.0,529.2 209.0,529.2 210.0,529.1 211.0,529.1 212.0,529.0 213.0,528.9 214.0,528.8 215.0,528.7 216.0,528.6 217.0,528.5 218.0,528.4 219.0,528.3 220.0,528.1 221.0,528.0 222.0,527.9 223.0,527.7 224.0,527.6 225.0,527.4 226.0,527.2 227.0,527.0 228.0,526.8 229.0,526.6 230.1,526.4 231.1,526.2 232.1,525.9 233.1,525.7 234.1,525.5 235.1,525.2 236.1,524.9 237.1,524.6 238.1,524.3 239.1,524.0 240.1,523.7 241.1,523.3 242.1,523.0 243.1,522.6 244.1,522.2 245.1,521.9 246.1,521.5 247.1,521.1 248.1,520.7 249.1,520.3 250.1,519.8 251.1,519.3 252.1,518.8 253.1,518.3 254.1,517.8 255.1,517.5 256.2,517.3 257.2,517.1 258.2,517.0 259.2,516.9 260.2,516.8 261.2,516.7 262.2,516.5 263.2,516.4 264.2,516.2 265.2,516.0 266.2,515.6 267.2,515.2 268.2,514.8 269.2,514.3 270.2,513.7 271.2,513.2 272.2,512.6 273.2,512.1 274.2,511.6 275.2,511.0 276.2,510.4 277.2,509.7 278.2,509.1 279.2,508.5 280.2,507.8 281.2,507.3 282.2,506.7 283.3,506.3 284.3,505.9 285.3,505.4 286.3,505.0 287.3,504.7 288.3,504.5 289.3,504.4 290.3,504.5 291.3,504.9 292.3,505.3 293.3,505.9 294.3,506.8 295.3,508.2 296.3,509.7 297.3,511.3 298.3,512.9 299.3,514.7 300.3,516.5 301.3,518.4 302.3,520.1 303.3,521.6 304.3,523.1 305.3,524.6 306.3,525.9 307.3,526.9 308.3,527.7 309.3,528.4 310.4,529.0 311.4,529.5 312.4,530.0 313.4,530.2 314.4,530.4 315.4,530.5 316.4,530.6 317.4,530.7 318.4,530.8 319.4,530.9 320.4,531.0 321.4,531.0 322.4,531.1 323.4,531.1 324.4,531.1 325.4,531.2 326.4,531.2 327.4,531.2 328.4,531.2 329.4,531.2 330.4,531.2 331.4,531.2 332.4,531.2 333.4,531.2 334.4,531.2 335.4,531.2 336.5,531.3 337.5,531.3 338.5,531.3 339.5,531.3 340.5,531.3 341.5,531.3 342.5,531.3 343.5,531.3 344.5,531.3 345.5,531.3 346.5,531.3 347.5,531.3 348.5,531.3 349.5,531.3 350.5,531.3 351.5,531.3 352.5,531.3 353.5,531.3 354.5,531.3 355.5,531.4 356.5,531.4 357.5,531.4 358.5,531.4 359.5,531.4 360.5,531.4 361.5,531.4 362.5,531.4 363.6,531.4 364.6,531.4 365.6,531.4 366.6,531.4 367.6,531.4 368.6,531.4 369.6,531.4 370.6,531.4 371.6,531.4 372.6,531.4 373.6,531.4 374.6,531.4 375.6,531.4 376.6,531.4" fill="none" stroke="#ff00ff" stroke-width="1.9" stroke-linejoin="round" clip-path="url(#cc)"/>
<line x1="55.4" y1="529.6" x2="59.9" y2="529.6" stroke="#000" stroke-width="2.0" />
<line x1="55.4" y1="507.31" x2="57.9" y2="507.31" stroke="#000" stroke-width="2.0" />
<line x1="55.4" y1="485.02" x2="59.9" y2="485.02" stroke="#000" stroke-width="2.0" />
<line x1="55.4" y1="462.73" x2="57.9" y2="462.73" stroke="#000" stroke-width="2.0" />
<line x1="55.4" y1="440.44" x2="59.9" y2="440.44" stroke="#000" stroke-width="2.0" />
<line x1="55.4" y1="418.15" x2="57.9" y2="418.15" stroke="#000" stroke-width="2.0" />
<line x1="55.4" y1="395.86" x2="59.9" y2="395.86" stroke="#000" stroke-width="2.0" />
<line x1="55.4" y1="373.57" x2="57.9" y2="373.57" stroke="#000" stroke-width="2.0" />
<line x1="55.4" y1="351.28" x2="59.9" y2="351.28" stroke="#000" stroke-width="2.0" />
<line x1="55.4" y1="328.99" x2="57.9" y2="328.99" stroke="#000" stroke-width="2.0" />
<line x1="55.4" y1="306.7" x2="59.9" y2="306.7" stroke="#000" stroke-width="2.0" />
<line x1="55.4" y1="540.6" x2="55.4" y2="536.1" stroke="#000" stroke-width="2.0" />
<line x1="87.52" y1="540.6" x2="87.52" y2="538.1" stroke="#000" stroke-width="2.0" />
<line x1="119.64" y1="540.6" x2="119.64" y2="536.1" stroke="#000" stroke-width="2.0" />
<line x1="151.76" y1="540.6" x2="151.76" y2="538.1" stroke="#000" stroke-width="2.0" />
<line x1="183.88" y1="540.6" x2="183.88" y2="536.1" stroke="#000" stroke-width="2.0" />
<line x1="216" y1="540.6" x2="216" y2="538.1" stroke="#000" stroke-width="2.0" />
<line x1="248.12" y1="540.6" x2="248.12" y2="536.1" stroke="#000" stroke-width="2.0" />
<line x1="280.24" y1="540.6" x2="280.24" y2="538.1" stroke="#000" stroke-width="2.0" />
<line x1="312.36" y1="540.6" x2="312.36" y2="536.1" stroke="#000" stroke-width="2.0" />
<line x1="344.48" y1="540.6" x2="344.48" y2="538.1" stroke="#000" stroke-width="2.0" />
<line x1="376.6" y1="540.6" x2="376.6" y2="536.1" stroke="#000" stroke-width="2.0" />
<rect x="55.4" y="306.7" width="321.2" height="233.9" fill="none" stroke="#000" stroke-width="2.2" stroke-linejoin="round"/>
<text x="49.4" y="533.4" font-size="12" text-anchor="end" font-weight="bold" fill="#000" >0.0</text>
<text x="49.4" y="488.82" font-size="12" text-anchor="end" font-weight="bold" fill="#000" >0.2</text>
<text x="49.4" y="444.24" font-size="12" text-anchor="end" font-weight="bold" fill="#000" >0.4</text>
<text x="49.4" y="399.66" font-size="12" text-anchor="end" font-weight="bold" fill="#000" >0.6</text>
<text x="49.4" y="355.08" font-size="12" text-anchor="end" font-weight="bold" fill="#000" >0.8</text>
<text x="49.4" y="310.5" font-size="12" text-anchor="end" font-weight="bold" fill="#000" >1.0</text>
<text x="55.4" y="555" font-size="12" text-anchor="middle" font-weight="bold" fill="#000" >300</text>
<text x="119.64" y="555" font-size="12" text-anchor="middle" font-weight="bold" fill="#000" >400</text>
<text x="183.88" y="555" font-size="12" text-anchor="middle" font-weight="bold" fill="#000" >500</text>
<text x="248.12" y="555" font-size="12" text-anchor="middle" font-weight="bold" fill="#000" >600</text>
<text x="312.36" y="555" font-size="12" text-anchor="middle" font-weight="bold" fill="#000" >700</text>
<text x="376.6" y="555" font-size="12" text-anchor="middle" font-weight="bold" fill="#000" >800</text>
<text x="215.7" y="576.8" font-size="13.4" text-anchor="middle" font-weight="bold" fill="#000" >Wavelength (nm)</text>
<text x="0" y="0" font-size="13.8" font-weight="bold" text-anchor="middle" transform="translate(15,425.3) rotate(-90)">Absorbance (arb. unit)</text>
<text x="1.2" y="314.2" font-size="22" text-anchor="start" font-weight="bold" fill="#000" >c</text>
<text x="334.9" y="328" font-size="19" text-anchor="start" font-weight="bold" fill="#000"  textLength="35.9" lengthAdjust="spacingAndGlyphs">CP3</text>
<line x1="66" y1="319.1" x2="94.3" y2="319.1" stroke="#000" stroke-width="2" />
<text x="98" y="324" font-size="12.15" text-anchor="start" font-weight="bold" fill="#000" >Reference</text>
<line x1="66" y1="334.65" x2="94.3" y2="334.65" stroke="#ff0000" stroke-width="2" />
<text x="98" y="339.55" font-size="12.15" text-anchor="start" font-weight="bold" fill="#000" >15 minutes</text>
<line x1="66" y1="350.2" x2="94.3" y2="350.2" stroke="#0000ff" stroke-width="2" />
<text x="98" y="355.1" font-size="12.15" text-anchor="start" font-weight="bold" fill="#000" >30 minutes</text>
<line x1="66" y1="365.75" x2="94.3" y2="365.75" stroke="#008080" stroke-width="2" />
<text x="98" y="370.65" font-size="12.15" text-anchor="start" font-weight="bold" fill="#000" >45 minutes</text>
<line x1="66" y1="381.3" x2="94.3" y2="381.3" stroke="#ff00ff" stroke-width="2" />
<text x="98" y="386.2" font-size="12.15" text-anchor="start" font-weight="bold" fill="#000" >60 minutes</text>
<text x="339.4" y="350.4" font-size="11" text-anchor="middle" font-weight="bold" fill="#000" >0 minute</text>
<text x="343" y="519" font-size="11" text-anchor="middle" font-weight="bold" fill="#000" >60 minutes</text>
<line x1="339" y1="354" x2="339" y2="500" stroke="#000" stroke-width="2.0" />
<path d="M335.7,497 L342.3,497 L339,508 Z" fill="#000"/>
<line x1="454.3" y1="538.7" x2="458.8" y2="538.7" stroke="#000" stroke-width="2.0" />
<line x1="454.3" y1="517.63" x2="456.8" y2="517.63" stroke="#000" stroke-width="2.0" />
<line x1="454.3" y1="496.56" x2="458.8" y2="496.56" stroke="#000" stroke-width="2.0" />
<line x1="454.3" y1="475.49" x2="456.8" y2="475.49" stroke="#000" stroke-width="2.0" />
<line x1="454.3" y1="454.42" x2="458.8" y2="454.42" stroke="#000" stroke-width="2.0" />
<line x1="454.3" y1="433.35" x2="456.8" y2="433.35" stroke="#000" stroke-width="2.0" />
<line x1="454.3" y1="412.28" x2="458.8" y2="412.28" stroke="#000" stroke-width="2.0" />
<line x1="454.3" y1="391.21" x2="456.8" y2="391.21" stroke="#000" stroke-width="2.0" />
<line x1="454.3" y1="370.14" x2="458.8" y2="370.14" stroke="#000" stroke-width="2.0" />
<line x1="454.3" y1="349.07" x2="456.8" y2="349.07" stroke="#000" stroke-width="2.0" />
<line x1="454.3" y1="328" x2="458.8" y2="328" stroke="#000" stroke-width="2.0" />
<line x1="457.4" y1="539.2" x2="457.4" y2="534.7" stroke="#000" stroke-width="2.0" />
<line x1="490.79" y1="539.2" x2="490.79" y2="536.7" stroke="#000" stroke-width="2.0" />
<line x1="524.18" y1="539.2" x2="524.18" y2="534.7" stroke="#000" stroke-width="2.0" />
<line x1="557.57" y1="539.2" x2="557.57" y2="536.7" stroke="#000" stroke-width="2.0" />
<line x1="590.96" y1="539.2" x2="590.96" y2="534.7" stroke="#000" stroke-width="2.0" />
<line x1="624.35" y1="539.2" x2="624.35" y2="536.7" stroke="#000" stroke-width="2.0" />
<line x1="657.74" y1="539.2" x2="657.74" y2="534.7" stroke="#000" stroke-width="2.0" />
<line x1="691.13" y1="539.2" x2="691.13" y2="536.7" stroke="#000" stroke-width="2.0" />
<line x1="724.52" y1="539.2" x2="724.52" y2="534.7" stroke="#000" stroke-width="2.0" />
<line x1="757.91" y1="539.2" x2="757.91" y2="536.7" stroke="#000" stroke-width="2.0" />
<line x1="557.57" y1="306.9" x2="557.57" y2="539.2" stroke="#000" stroke-width="2.0" />
<path d="M462.00,328.00 L552.97,328.00 M562.17,328.04 L603.06,328.38 M612.25,328.58 L653.14,329.95 M662.34,330.32 L703.23,332.21 M712.42,332.58 L753.31,333.96 " fill="none" stroke="#000" stroke-width="1.8" stroke-linecap="butt"/>
<path d="M461.79,329.38 L553.18,358.02 M559.98,363.31 L605.24,436.81 M610.89,443.99 L654.50,488.02 M662.33,491.52 L703.23,493.59 M712.25,495.07 L753.48,506.69 " fill="none" stroke="#ff0000" stroke-width="1.8" stroke-linecap="butt"/>
<path d="M461.88,329.03 L553.09,349.94 M559.35,355.21 L605.88,466.40 M611.58,473.04 L653.81,498.80 M662.26,502.05 L703.31,509.82 M712.40,511.18 L753.34,515.65 " fill="none" stroke="#0000ff" stroke-width="1.8" stroke-linecap="butt"/>
<path d="M461.93,328.81 L553.04,345.10 M559.66,350.01 L605.57,440.21 M611.40,446.97 L653.99,477.25 M662.22,480.95 L703.34,490.47 M712.11,493.18 L753.63,509.42 " fill="none" stroke="#008080" stroke-width="1.8" stroke-linecap="butt"/>
<rect x="454.6" y="325.2" width="5.6" height="5.6" fill="#000"/>
<rect x="554.77" y="325.2" width="5.6" height="5.6" fill="#000"/>
<rect x="604.86" y="325.62" width="5.6" height="5.6" fill="#000"/>
<rect x="654.94" y="327.31" width="5.6" height="5.6" fill="#000"/>
<rect x="705.03" y="329.62" width="5.6" height="5.6" fill="#000"/>
<rect x="755.11" y="331.31" width="5.6" height="5.6" fill="#000"/>
<circle cx="457.4" cy="328" r="3.1" fill="#ff0000"/>
<circle cx="557.57" cy="359.39" r="3.1" fill="#ff0000"/>
<circle cx="607.65" cy="440.72" r="3.1" fill="#ff0000"/>
<circle cx="657.74" cy="491.29" r="3.1" fill="#ff0000"/>
<circle cx="707.83" cy="493.82" r="3.1" fill="#ff0000"/>
<circle cx="757.91" cy="507.94" r="3.1" fill="#ff0000"/>
<path d="M457.4,324.1 L461,330.6 L453.8,330.6 Z" fill="#0000ff"/>
<path d="M557.57,347.07 L561.17,353.57 L553.97,353.57 Z" fill="#0000ff"/>
<path d="M607.65,466.74 L611.25,473.24 L604.05,473.24 Z" fill="#0000ff"/>
<path d="M657.74,497.3 L661.34,503.8 L654.14,503.8 Z" fill="#0000ff"/>
<path d="M707.83,506.78 L711.43,513.28 L704.23,513.28 Z" fill="#0000ff"/>
<path d="M757.91,512.26 L761.51,518.76 L754.31,518.76 Z" fill="#0000ff"/>
<path d="M457.4,331.9 L461,325.4 L453.8,325.4 Z" fill="#008080"/>
<path d="M557.57,349.81 L561.17,343.31 L553.97,343.31 Z" fill="#008080"/>
<path d="M607.65,448.21 L611.25,441.71 L604.05,441.71 Z" fill="#008080"/>
<path d="M657.74,483.81 L661.34,477.31 L654.14,477.31 Z" fill="#008080"/>
<path d="M707.83,495.4 L711.43,488.9 L704.23,488.9 Z" fill="#008080"/>
<path d="M757.91,515 L761.51,508.5 L754.31,508.5 Z" fill="#008080"/>
<rect x="454.3" y="306.9" width="320.4" height="232.3" fill="none" stroke="#000" stroke-width="2.2" stroke-linejoin="round"/>
<text x="449.3" y="542.5" font-size="12" text-anchor="end" font-weight="bold" fill="#000" >0.0</text>
<text x="449.3" y="500.36" font-size="12" text-anchor="end" font-weight="bold" fill="#000" >0.2</text>
<text x="449.3" y="458.22" font-size="12" text-anchor="end" font-weight="bold" fill="#000" >0.4</text>
<text x="449.3" y="416.08" font-size="12" text-anchor="end" font-weight="bold" fill="#000" >0.6</text>
<text x="449.3" y="373.94" font-size="12" text-anchor="end" font-weight="bold" fill="#000" >0.8</text>
<text x="449.3" y="331.8" font-size="12" text-anchor="end" font-weight="bold" fill="#000" >1.0</text>
<text x="457.4" y="553" font-size="12" text-anchor="middle" font-weight="bold" fill="#000" >0</text>
<text x="524.18" y="553" font-size="12" text-anchor="middle" font-weight="bold" fill="#000" >20</text>
<text x="590.96" y="553" font-size="12" text-anchor="middle" font-weight="bold" fill="#000" >40</text>
<text x="657.74" y="553" font-size="12" text-anchor="middle" font-weight="bold" fill="#000" >60</text>
<text x="724.52" y="553" font-size="12" text-anchor="middle" font-weight="bold" fill="#000" >80</text>
<text x="615" y="575" font-size="13" text-anchor="middle" font-weight="bold" fill="#000" >Time (minute)</text>
<text x="0" y="0" font-size="12.4" font-weight="bold" text-anchor="middle" transform="translate(422.2,432.5) rotate(-90)">C/C<tspan font-size="8.2" dy="5.2">0</tspan></text>
<text x="509.3" y="305.5" font-size="12" text-anchor="middle" font-weight="bold" fill="#000" >Dark</text>
<text x="659.8" y="305.5" font-size="12" text-anchor="middle" font-weight="bold" fill="#000" >Sunlight</text>
<text x="405" y="318" font-size="22" text-anchor="start" font-weight="bold" fill="#000" >d</text>
<line x1="636.8" y1="362" x2="645.6" y2="362" stroke="#000" stroke-width="1.8" />
<line x1="655.4" y1="362" x2="664.2" y2="362" stroke="#000" stroke-width="1.8" />
<rect x="647.7" y="359.2" width="5.6" height="5.6" fill="#000"/>
<text x="668.5" y="366.3" font-size="11.8" text-anchor="start" font-weight="bold" fill="#000" >Self degradation</text>
<line x1="636.8" y1="376.75" x2="645.6" y2="376.75" stroke="#ff0000" stroke-width="1.8" />
<line x1="655.4" y1="376.75" x2="664.2" y2="376.75" stroke="#ff0000" stroke-width="1.8" />
<circle cx="650.5" cy="376.75" r="3.1" fill="#ff0000"/>
<text x="668.5" y="381.05" font-size="11.8" text-anchor="start" font-weight="bold" fill="#000" >CP1</text>
<line x1="636.8" y1="391.5" x2="645.6" y2="391.5" stroke="#0000ff" stroke-width="1.8" />
<line x1="655.4" y1="391.5" x2="664.2" y2="391.5" stroke="#0000ff" stroke-width="1.8" />
<path d="M650.5,387.6 L654.1,394.1 L646.9,394.1 Z" fill="#0000ff"/>
<text x="668.5" y="395.8" font-size="11.8" text-anchor="start" font-weight="bold" fill="#000" >CP2</text>
<line x1="636.8" y1="406.25" x2="645.6" y2="406.25" stroke="#008080" stroke-width="1.8" />
<line x1="655.4" y1="406.25" x2="664.2" y2="406.25" stroke="#008080" stroke-width="1.8" />
<path d="M650.5,410.15 L654.1,403.65 L646.9,403.65 Z" fill="#008080"/>
<text x="668.5" y="410.55" font-size="11.8" text-anchor="start" font-weight="bold" fill="#000" >CP3</text>
<defs>
<pattern id="hatch" patternUnits="userSpaceOnUse" width="4.95" height="4.95" patternTransform="rotate(45)">
<line x1="0.6" y1="0" x2="0.6" y2="4.95" stroke="#000" stroke-width="0.85"/></pattern>
</defs>
<rect x="82.55" y="639.2" width="54.1" height="184.9" fill="#00ff00" stroke="none"/>
<rect x="82.55" y="639.2" width="54.1" height="184.9" fill="url(#hatch)" stroke="#222" stroke-width="1"/>
<text x="110.1" y="637.2" font-size="12" text-anchor="middle" font-weight="bold" fill="#000" >85.9</text>
<rect x="190.65" y="631.5" width="54.1" height="192.6" fill="#0000ff" stroke="none"/>
<rect x="190.65" y="631.5" width="54.1" height="192.6" fill="url(#hatch)" stroke="#222" stroke-width="1"/>
<text x="220.2" y="629.5" font-size="12" text-anchor="middle" font-weight="bold" fill="#000" >89.8</text>
<rect x="298.65" y="637.4" width="54.1" height="186.7" fill="#00ffff" stroke="none"/>
<rect x="298.65" y="637.4" width="54.1" height="186.7" fill="url(#hatch)" stroke="#222" stroke-width="1"/>
<text x="327.4" y="635.4" font-size="12" text-anchor="middle" font-weight="bold" fill="#000" >86.9</text>
<line x1="56.1" y1="824.1" x2="60.6" y2="824.1" stroke="#000" stroke-width="2.0" />
<line x1="56.1" y1="802.55" x2="58.6" y2="802.55" stroke="#000" stroke-width="2.0" />
<line x1="56.1" y1="781" x2="60.6" y2="781" stroke="#000" stroke-width="2.0" />
<line x1="56.1" y1="759.45" x2="58.6" y2="759.45" stroke="#000" stroke-width="2.0" />
<line x1="56.1" y1="737.9" x2="60.6" y2="737.9" stroke="#000" stroke-width="2.0" />
<line x1="56.1" y1="716.35" x2="58.6" y2="716.35" stroke="#000" stroke-width="2.0" />
<line x1="56.1" y1="694.8" x2="60.6" y2="694.8" stroke="#000" stroke-width="2.0" />
<line x1="56.1" y1="673.25" x2="58.6" y2="673.25" stroke="#000" stroke-width="2.0" />
<line x1="56.1" y1="651.7" x2="60.6" y2="651.7" stroke="#000" stroke-width="2.0" />
<line x1="56.1" y1="630.15" x2="58.6" y2="630.15" stroke="#000" stroke-width="2.0" />
<line x1="56.1" y1="608.6" x2="60.6" y2="608.6" stroke="#000" stroke-width="2.0" />
<line x1="109.6" y1="824.1" x2="109.6" y2="819.6" stroke="#000" stroke-width="2.0" />
<line x1="217.7" y1="824.1" x2="217.7" y2="819.6" stroke="#000" stroke-width="2.0" />
<line x1="325.7" y1="824.1" x2="325.7" y2="819.6" stroke="#000" stroke-width="2.0" />
<line x1="163.6" y1="824.1" x2="163.6" y2="821.6" stroke="#000" stroke-width="2.0" />
<line x1="271.7" y1="824.1" x2="271.7" y2="821.6" stroke="#000" stroke-width="2.0" />
<rect x="56.1" y="589.4" width="324" height="234.7" fill="none" stroke="#000" stroke-width="2.2" stroke-linejoin="round"/>
<text x="50.8" y="828.4" font-size="12" text-anchor="end" font-weight="bold" fill="#000" >0</text>
<text x="50.8" y="785.3" font-size="12" text-anchor="end" font-weight="bold" fill="#000" >20</text>
<text x="50.8" y="742.2" font-size="12" text-anchor="end" font-weight="bold" fill="#000" >40</text>
<text x="50.8" y="699.1" font-size="12" text-anchor="end" font-weight="bold" fill="#000" >60</text>
<text x="50.8" y="656" font-size="12" text-anchor="end" font-weight="bold" fill="#000" >80</text>
<text x="50.8" y="612.9" font-size="12" text-anchor="end" font-weight="bold" fill="#000" >100</text>
<text x="109.6" y="839" font-size="12" text-anchor="middle" font-weight="bold" fill="#000" >CP1</text>
<text x="217.7" y="839" font-size="12" text-anchor="middle" font-weight="bold" fill="#000" >CP2</text>
<text x="325.7" y="839" font-size="12" text-anchor="middle" font-weight="bold" fill="#000" >CP3</text>
<text x="217.5" y="861.6" font-size="13.6" text-anchor="middle" font-weight="bold" fill="#000" >Photocatalyst</text>
<text x="0" y="0" font-size="13.7" font-weight="bold" text-anchor="middle" transform="translate(20.9,715.8) rotate(-90)">Efficiency (%)</text>
<text x="0.3" y="590.3" font-size="22" text-anchor="start" font-weight="bold" fill="#000" >e</text>
<rect x="482.25" y="666.1" width="54.2" height="159.4" fill="#00ff00" stroke="none"/>
<rect x="482.25" y="666.1" width="54.2" height="159.4" fill="url(#hatch)" stroke="#222" stroke-width="1"/>
<rect x="589.45" y="616.4" width="54.2" height="209.1" fill="#0000ff" stroke="none"/>
<rect x="589.45" y="616.4" width="54.2" height="209.1" fill="url(#hatch)" stroke="#222" stroke-width="1"/>
<rect x="696.65" y="653.5" width="54.2" height="172" fill="#00ffff" stroke="none"/>
<rect x="696.65" y="653.5" width="54.2" height="172" fill="url(#hatch)" stroke="#222" stroke-width="1"/>
<line x1="456" y1="825.5" x2="460.5" y2="825.5" stroke="#000" stroke-width="2.0" />
<line x1="456" y1="807.08" x2="458.5" y2="807.08" stroke="#000" stroke-width="2.0" />
<line x1="456" y1="788.66" x2="460.5" y2="788.66" stroke="#000" stroke-width="2.0" />
<line x1="456" y1="770.24" x2="458.5" y2="770.24" stroke="#000" stroke-width="2.0" />
<line x1="456" y1="751.82" x2="460.5" y2="751.82" stroke="#000" stroke-width="2.0" />
<line x1="456" y1="733.4" x2="458.5" y2="733.4" stroke="#000" stroke-width="2.0" />
<line x1="456" y1="714.98" x2="460.5" y2="714.98" stroke="#000" stroke-width="2.0" />
<line x1="456" y1="696.56" x2="458.5" y2="696.56" stroke="#000" stroke-width="2.0" />
<line x1="456" y1="678.14" x2="460.5" y2="678.14" stroke="#000" stroke-width="2.0" />
<line x1="456" y1="659.72" x2="458.5" y2="659.72" stroke="#000" stroke-width="2.0" />
<line x1="456" y1="641.3" x2="460.5" y2="641.3" stroke="#000" stroke-width="2.0" />
<line x1="456" y1="622.88" x2="458.5" y2="622.88" stroke="#000" stroke-width="2.0" />
<line x1="456" y1="604.46" x2="460.5" y2="604.46" stroke="#000" stroke-width="2.0" />
<line x1="509.35" y1="825.5" x2="509.35" y2="821" stroke="#000" stroke-width="2.0" />
<line x1="616.55" y1="825.5" x2="616.55" y2="821" stroke="#000" stroke-width="2.0" />
<line x1="723.75" y1="825.5" x2="723.75" y2="821" stroke="#000" stroke-width="2.0" />
<line x1="562.7" y1="825.5" x2="562.7" y2="823" stroke="#000" stroke-width="2.0" />
<line x1="669.9" y1="825.5" x2="669.9" y2="823" stroke="#000" stroke-width="2.0" />
<rect x="456" y="592.4" width="320.9" height="233.1" fill="none" stroke="#000" stroke-width="2.2" stroke-linejoin="round"/>
<text x="450" y="829.3" font-size="12" text-anchor="end" font-weight="bold" fill="#000" >0.000</text>
<text x="450" y="792.46" font-size="12" text-anchor="end" font-weight="bold" fill="#000" >0.003</text>
<text x="450" y="755.62" font-size="12" text-anchor="end" font-weight="bold" fill="#000" >0.006</text>
<text x="450" y="718.78" font-size="12" text-anchor="end" font-weight="bold" fill="#000" >0.009</text>
<text x="450" y="681.94" font-size="12" text-anchor="end" font-weight="bold" fill="#000" >0.012</text>
<text x="450" y="645.1" font-size="12" text-anchor="end" font-weight="bold" fill="#000" >0.015</text>
<text x="450" y="608.26" font-size="12" text-anchor="end" font-weight="bold" fill="#000" >0.018</text>
<text x="509.35" y="840.5" font-size="12" text-anchor="middle" font-weight="bold" fill="#000" >CP1</text>
<text x="616.55" y="840.5" font-size="12" text-anchor="middle" font-weight="bold" fill="#000" >CP2</text>
<text x="723.75" y="840.5" font-size="12" text-anchor="middle" font-weight="bold" fill="#000" >CP3</text>
<text x="617" y="862.8" font-size="13.6" text-anchor="middle" font-weight="bold" fill="#000" >Photocatalyst</text>
<text x="0" y="0" font-size="11.5" font-weight="bold" text-anchor="middle" transform="translate(412.2,717.5) rotate(-90)">Rate constant (min<tspan font-size="6.8" dy="-5.6">-1</tspan><tspan dy="5.6">)</tspan></text>
<text x="398.5" y="597" font-size="22" text-anchor="start" font-weight="bold" fill="#000" >f</text>
</svg>
</body></html>
